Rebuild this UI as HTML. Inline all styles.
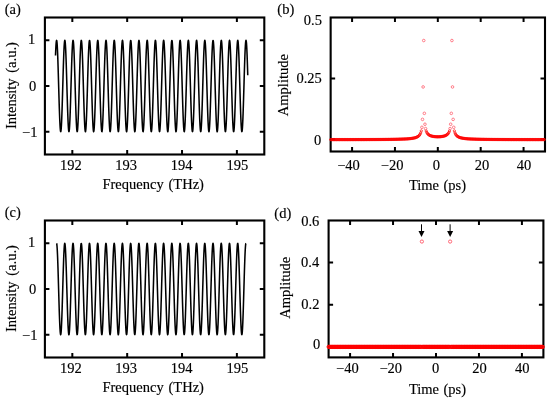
<!DOCTYPE html>
<html><head><meta charset="utf-8"><style>
html,body{margin:0;padding:0;background:#fff;}
svg{display:block;}
text{font-family:"Liberation Serif","Times New Roman",serif;font-size:14.5px;fill:#000;stroke:#000;stroke-width:0.15px;}
</style></head><body>
<svg width="550" height="400" viewBox="0 0 550 400">
<rect width="550" height="400" fill="#fff"/>
<polyline points="55.50,55.49 55.66,51.58 55.82,48.18 55.98,45.34 56.14,43.11 56.30,41.52 56.46,40.59 56.62,40.34 56.78,40.77 56.94,41.88 57.10,43.64 57.26,46.04 57.42,49.03 57.58,52.58 57.74,56.62 57.90,61.11 58.06,65.96 58.22,71.11 58.38,76.49 58.54,82.01 58.70,87.58 58.86,93.14 59.02,98.58 59.18,103.84 59.34,108.83 59.51,113.49 59.67,117.73 59.83,121.50 59.99,124.73 60.15,127.39 60.31,129.44 60.47,130.83 60.63,131.56 60.79,131.60 60.95,130.97 61.11,129.66 61.27,127.70 61.43,125.12 61.59,121.96 61.75,118.26 61.91,114.08 62.07,109.48 62.23,104.53 62.39,99.30 62.55,93.87 62.71,88.33 62.87,82.75 63.03,77.22 63.19,71.82 63.35,66.63 63.51,61.74 63.67,57.20 63.83,53.09 63.99,49.48 64.15,46.41 64.31,43.93 64.47,42.08 64.63,40.88 64.79,40.36 64.95,40.52 65.11,41.35 65.27,42.86 65.43,45.00 65.59,47.76 65.75,51.09 65.91,54.94 66.07,59.26 66.23,63.97 66.39,69.01 66.55,74.31 66.71,79.78 66.87,85.34 67.03,90.91 67.20,96.41 67.36,101.76 67.52,106.86 67.68,111.66 67.84,116.08 68.00,120.04 68.16,123.50 68.32,126.40 68.48,128.69 68.64,130.35 68.80,131.35 68.96,131.67 69.12,131.30 69.28,130.27 69.44,128.57 69.60,126.23 69.76,123.30 69.92,119.81 70.08,115.81 70.24,111.37 70.40,106.55 70.56,101.43 70.72,96.07 70.88,90.57 71.04,84.99 71.20,79.43 71.36,73.97 71.52,68.69 71.68,63.67 71.84,58.97 72.00,54.69 72.16,50.87 72.32,47.57 72.48,44.85 72.64,42.74 72.80,41.28 72.96,40.49 73.12,40.37 73.28,40.94 73.44,42.17 73.60,44.07 73.76,46.58 73.92,49.69 74.08,53.34 74.24,57.47 74.40,62.03 74.56,66.95 74.72,72.15 74.89,77.56 75.05,83.10 75.21,88.68 75.37,94.22 75.53,99.63 75.69,104.84 75.85,109.78 76.01,114.35 76.17,118.51 76.33,122.17 76.49,125.30 76.65,127.85 76.81,129.76 76.97,131.03 77.13,131.62 77.29,131.53 77.45,130.76 77.61,129.33 77.77,127.25 77.93,124.55 78.09,121.27 78.25,117.48 78.41,113.21 78.57,108.53 78.73,103.52 78.89,98.25 79.05,92.79 79.21,87.23 79.37,81.66 79.53,76.15 79.69,70.78 79.85,65.65 80.01,60.81 80.17,56.36 80.33,52.34 80.49,48.83 80.65,45.87 80.81,43.51 80.97,41.79 81.13,40.72 81.29,40.34 81.45,40.63 81.61,41.60 81.77,43.23 81.93,45.50 82.09,48.37 82.25,51.81 82.41,55.76 82.58,60.15 82.74,64.94 82.90,70.03 83.06,75.37 83.22,80.86 83.38,86.44 83.54,92.00 83.70,97.48 83.86,102.78 84.02,107.83 84.18,112.56 84.34,116.89 84.50,120.76 84.66,124.11 84.82,126.90 84.98,129.07 85.14,130.60 85.30,131.46 85.46,131.65 85.62,131.15 85.78,129.98 85.94,128.16 86.10,125.70 86.26,122.66 86.42,119.06 86.58,114.97 86.74,110.45 86.90,105.57 87.06,100.39 87.22,95.00 87.38,89.47 87.54,83.90 87.70,78.35 87.86,72.92 88.02,67.68 88.18,62.72 88.34,58.10 88.50,53.90 88.66,50.18 88.82,46.99 88.98,44.39 89.14,42.40 89.30,41.07 89.46,40.41 89.62,40.43 89.78,41.13 89.94,42.49 90.10,44.51 90.27,47.15 90.43,50.36 90.59,54.11 90.75,58.34 90.91,62.97 91.07,67.95 91.23,73.20 91.39,78.64 91.55,84.19 91.71,89.77 91.87,95.29 92.03,100.67 92.19,105.84 92.35,110.70 92.51,115.20 92.67,119.27 92.83,122.83 92.99,125.85 93.15,128.27 93.31,130.06 93.47,131.20 93.63,131.66 93.79,131.43 93.95,130.53 94.11,128.97 94.27,126.76 94.43,123.95 94.59,120.57 94.75,116.67 94.91,112.32 95.07,107.57 95.23,102.50 95.39,97.19 95.55,91.71 95.71,86.14 95.87,80.57 96.03,75.08 96.19,69.76 96.35,64.67 96.51,59.91 96.67,55.53 96.83,51.61 96.99,48.20 97.15,45.36 97.31,43.12 97.47,41.53 97.63,40.59 97.80,40.34 97.96,40.76 98.12,41.87 98.28,43.62 98.44,46.02 98.60,49.00 98.76,52.55 98.92,56.58 99.08,61.06 99.24,65.91 99.40,71.07 99.56,76.44 99.72,81.95 99.88,87.53 100.04,93.09 100.20,98.53 100.36,103.79 100.52,108.79 100.68,113.44 100.84,117.69 101.00,121.46 101.16,124.71 101.32,127.37 101.48,129.42 101.64,130.82 101.80,131.55 101.96,131.61 102.12,130.98 102.28,129.68 102.44,127.73 102.60,125.15 102.76,121.99 102.92,118.30 103.08,114.12 103.24,109.52 103.40,104.57 103.56,99.35 103.72,93.92 103.88,88.38 104.04,82.80 104.20,77.27 104.36,71.87 104.52,66.68 104.68,61.78 104.84,57.24 105.00,53.13 105.16,49.51 105.32,46.43 105.48,43.95 105.65,42.09 105.81,40.89 105.97,40.36 106.13,40.51 106.29,41.34 106.45,42.84 106.61,44.98 106.77,47.73 106.93,51.06 107.09,54.91 107.25,59.22 107.41,63.93 107.57,68.96 107.73,74.26 107.89,79.73 108.05,85.29 108.21,90.86 108.37,96.36 108.53,101.71 108.69,106.82 108.85,111.62 109.01,116.04 109.17,120.01 109.33,123.47 109.49,126.37 109.65,128.67 109.81,130.34 109.97,131.34 110.13,131.67 110.29,131.31 110.45,130.28 110.61,128.59 110.77,126.26 110.93,123.33 111.09,119.84 111.25,115.85 111.41,111.41 111.57,106.60 111.73,101.48 111.89,96.12 112.05,90.62 112.21,85.04 112.37,79.48 112.53,74.02 112.69,68.74 112.85,63.71 113.01,59.02 113.17,54.73 113.34,50.90 113.50,47.60 113.66,44.87 113.82,42.76 113.98,41.29 114.14,40.49 114.30,40.37 114.46,40.93 114.62,42.16 114.78,44.05 114.94,46.56 115.10,49.66 115.26,53.30 115.42,57.43 115.58,61.99 115.74,66.90 115.90,72.11 116.06,77.51 116.22,83.05 116.38,88.63 116.54,94.17 116.70,99.58 116.86,104.80 117.02,109.73 117.18,114.31 117.34,118.47 117.50,122.14 117.66,125.28 117.82,127.82 117.98,129.75 118.14,131.02 118.30,131.62 118.46,131.54 118.62,130.77 118.78,129.34 118.94,127.27 119.10,124.58 119.26,121.31 119.42,117.51 119.58,113.25 119.74,108.58 119.90,103.57 120.06,98.30 120.22,92.84 120.38,87.28 120.54,81.71 120.70,76.20 120.86,70.83 121.03,65.69 121.19,60.86 121.35,56.40 121.51,52.38 121.67,48.86 121.83,45.90 121.99,43.53 122.15,41.80 122.31,40.73 122.47,40.34 122.63,40.62 122.79,41.58 122.95,43.21 123.11,45.47 123.27,48.34 123.43,51.78 123.59,55.72 123.75,60.11 123.91,64.89 124.07,69.99 124.23,75.32 124.39,80.81 124.55,86.38 124.71,91.95 124.87,97.43 125.03,102.73 125.19,107.79 125.35,112.52 125.51,116.85 125.67,120.73 125.83,124.09 125.99,126.87 126.15,129.05 126.31,130.59 126.47,131.46 126.63,131.65 126.79,131.16 126.95,130.00 127.11,128.18 127.27,125.73 127.43,122.69 127.59,119.10 127.75,115.01 127.91,110.50 128.07,105.61 128.23,100.44 128.39,95.05 128.56,89.52 128.72,83.95 128.88,78.40 129.04,72.97 129.20,67.73 129.36,62.76 129.52,58.14 129.68,53.94 129.84,50.21 130.00,47.02 130.16,44.41 130.32,42.42 130.48,41.08 130.64,40.41 130.80,40.42 130.96,41.12 131.12,42.48 131.28,44.49 131.44,47.12 131.60,50.33 131.76,54.08 131.92,58.30 132.08,62.93 132.24,67.91 132.40,73.15 132.56,78.59 132.72,84.14 132.88,89.72 133.04,95.24 133.20,100.63 133.36,105.79 133.52,110.66 133.68,115.16 133.84,119.23 134.00,122.80 134.16,125.82 134.32,128.25 134.48,130.05 134.64,131.19 134.80,131.66 134.96,131.44 135.12,130.55 135.28,128.99 135.44,126.79 135.60,123.98 135.76,120.60 135.92,116.71 136.08,112.36 136.25,107.62 136.41,102.55 136.57,97.24 136.73,91.76 136.89,86.19 137.05,80.62 137.21,75.13 137.37,69.80 137.53,64.72 137.69,59.95 137.85,55.57 138.01,51.65 138.17,48.23 138.33,45.38 138.49,43.14 138.65,41.54 138.81,40.60 138.97,40.34 139.13,40.76 139.29,41.85 139.45,43.61 139.61,45.99 139.77,48.97 139.93,52.51 140.09,56.55 140.25,61.02 140.41,65.87 140.57,71.02 140.73,76.39 140.89,81.90 141.05,87.48 141.21,93.03 141.37,98.48 141.53,103.75 141.69,108.75 141.85,113.40 142.01,117.65 142.17,121.43 142.33,124.68 142.49,127.35 142.65,129.41 142.81,130.81 142.97,131.55 143.13,131.61 143.29,130.99 143.45,129.69 143.61,127.75 143.77,125.18 143.94,122.02 144.10,118.33 144.26,114.16 144.42,109.56 144.58,104.62 144.74,99.40 144.90,93.97 145.06,88.43 145.22,82.85 145.38,77.32 145.54,71.92 145.70,66.73 145.86,61.82 146.02,57.28 146.18,53.16 146.34,49.54 146.50,46.46 146.66,43.97 146.82,42.10 146.98,40.90 147.14,40.36 147.30,40.51 147.46,41.33 147.62,42.82 147.78,44.96 147.94,47.71 148.10,51.03 148.26,54.87 148.42,59.17 148.58,63.88 148.74,68.92 148.90,74.21 149.06,79.68 149.22,85.24 149.38,90.81 149.54,96.31 149.70,101.66 149.86,106.77 150.02,111.58 150.18,116.00 150.34,119.97 150.50,123.44 150.66,126.35 150.82,128.66 150.98,130.33 151.14,131.33 151.30,131.67 151.46,131.32 151.62,130.29 151.79,128.60 151.95,126.28 152.11,123.36 152.27,119.88 152.43,115.89 152.59,111.46 152.75,106.64 152.91,101.52 153.07,96.17 153.23,90.67 153.39,85.09 153.55,79.53 153.71,74.07 153.87,68.78 154.03,63.75 154.19,59.06 154.35,54.76 154.51,50.93 154.67,47.63 154.83,44.90 154.99,42.78 155.15,41.30 155.31,40.49 155.47,40.37 155.63,40.92 155.79,42.15 155.95,44.03 156.11,46.53 156.27,49.63 156.43,53.27 156.59,57.39 156.75,61.95 156.91,66.86 157.07,72.06 157.23,77.46 157.39,83.00 157.55,88.58 157.71,94.12 157.87,99.53 158.03,104.75 158.19,109.69 158.35,114.27 158.51,118.43 158.67,122.11 158.83,125.25 158.99,127.80 159.15,129.73 159.31,131.01 159.48,131.62 159.64,131.54 159.80,130.78 159.96,129.36 160.12,127.29 160.28,124.60 160.44,121.34 160.60,117.55 160.76,113.29 160.92,108.62 161.08,103.61 161.24,98.34 161.40,92.89 161.56,87.34 161.72,81.76 161.88,76.25 162.04,70.88 162.20,65.74 162.36,60.90 162.52,56.44 162.68,52.41 162.84,48.89 163.00,45.92 163.16,43.55 163.32,41.82 163.48,40.74 163.64,40.34 163.80,40.62 163.96,41.57 164.12,43.19 164.28,45.45 164.44,48.32 164.60,51.74 164.76,55.68 164.92,60.07 165.08,64.85 165.24,69.94 165.40,75.27 165.56,80.76 165.72,86.33 165.88,91.90 166.04,97.38 166.20,102.68 166.36,107.74 166.52,112.48 166.68,116.82 166.84,120.70 167.00,124.06 167.17,126.85 167.33,129.04 167.49,130.58 167.65,131.45 167.81,131.65 167.97,131.17 168.13,130.01 168.29,128.20 168.45,125.75 168.61,122.72 168.77,119.13 168.93,115.05 169.09,110.54 169.25,105.66 169.41,100.49 169.57,95.10 169.73,89.58 169.89,84.00 170.05,78.45 170.21,73.01 170.37,67.77 170.53,62.80 170.69,58.18 170.85,53.97 171.01,50.24 171.17,47.04 171.33,44.43 171.49,42.43 171.65,41.09 171.81,40.42 171.97,40.42 172.13,41.11 172.29,42.46 172.45,44.47 172.61,47.09 172.77,50.30 172.93,54.04 173.09,58.25 173.25,62.88 173.41,67.86 173.57,73.10 173.73,78.54 173.89,84.09 174.05,89.67 174.21,95.19 174.37,100.58 174.53,105.75 174.69,110.62 174.86,115.13 175.02,119.20 175.18,122.77 175.34,125.80 175.50,128.23 175.66,130.04 175.82,131.18 175.98,131.65 176.14,131.44 176.30,130.56 176.46,129.00 176.62,126.81 176.78,124.01 176.94,120.64 177.10,116.75 177.26,112.40 177.42,107.66 177.58,102.60 177.74,97.29 177.90,91.81 178.06,86.24 178.22,80.67 178.38,75.18 178.54,69.85 178.70,64.76 178.86,59.99 179.02,55.61 179.18,51.68 179.34,48.26 179.50,45.41 179.66,43.16 179.82,41.55 179.98,40.61 180.14,40.34 180.30,40.75 180.46,41.84 180.62,43.59 180.78,45.97 180.94,48.95 181.10,52.48 181.26,56.51 181.42,60.98 181.58,65.82 181.74,70.97 181.90,76.34 182.06,81.85 182.22,87.43 182.38,92.98 182.55,98.44 182.71,103.70 182.87,108.70 183.03,113.36 183.19,117.62 183.35,121.40 183.51,124.65 183.67,127.33 183.83,129.39 183.99,130.80 184.15,131.55 184.31,131.61 184.47,130.99 184.63,129.71 184.79,127.77 184.95,125.20 185.11,122.05 185.27,118.37 185.43,114.20 185.59,109.61 185.75,104.67 185.91,99.44 186.07,94.02 186.23,88.48 186.39,82.90 186.55,77.37 186.71,71.97 186.87,66.77 187.03,61.87 187.19,57.32 187.35,53.20 187.51,49.57 187.67,46.48 187.83,43.99 187.99,42.12 188.15,40.90 188.31,40.36 188.47,40.50 188.63,41.32 188.79,42.81 188.95,44.94 189.11,47.68 189.27,50.99 189.43,54.83 189.59,59.13 189.75,63.84 189.91,68.87 190.07,74.16 190.24,79.63 190.40,85.19 190.56,90.76 190.72,96.26 190.88,101.61 191.04,106.73 191.20,111.54 191.36,115.96 191.52,119.94 191.68,123.41 191.84,126.33 192.00,128.64 192.16,130.31 192.32,131.33 192.48,131.67 192.64,131.32 192.80,130.30 192.96,128.62 193.12,126.31 193.28,123.39 193.44,119.91 193.60,115.93 193.76,111.50 193.92,106.69 194.08,101.57 194.24,96.22 194.40,90.72 194.56,85.14 194.72,79.58 194.88,74.12 195.04,68.83 195.20,63.80 195.36,59.10 195.52,54.80 195.68,50.97 195.84,47.66 196.00,44.92 196.16,42.79 196.32,41.31 196.48,40.50 196.64,40.36 196.80,40.91 196.96,42.13 197.12,44.01 197.28,46.51 197.44,49.60 197.60,53.23 197.76,57.35 197.93,61.90 198.09,66.81 198.25,72.01 198.41,77.41 198.57,82.95 198.73,88.52 198.89,94.07 199.05,99.49 199.21,104.71 199.37,109.65 199.53,114.23 199.69,118.40 199.85,122.08 200.01,125.23 200.17,127.78 200.33,129.72 200.49,131.00 200.65,131.61 200.81,131.54 200.97,130.79 201.13,129.38 201.29,127.31 201.45,124.63 201.61,121.37 201.77,117.59 201.93,113.33 202.09,108.66 202.25,103.66 202.41,98.39 202.57,92.94 202.73,87.39 202.89,81.81 203.05,76.30 203.21,70.93 203.37,65.78 203.53,60.94 203.69,56.47 203.85,52.45 204.01,48.92 204.17,45.95 204.33,43.57 204.49,41.83 204.65,40.74 204.81,40.34 204.97,40.61 205.13,41.56 205.29,43.17 205.46,45.43 205.62,48.29 205.78,51.71 205.94,55.64 206.10,60.03 206.26,64.80 206.42,69.89 206.58,75.22 206.74,80.71 206.90,86.28 207.06,91.85 207.22,97.33 207.38,102.64 207.54,107.70 207.70,112.44 207.86,116.78 208.02,120.66 208.18,124.03 208.34,126.83 208.50,129.02 208.66,130.57 208.82,131.45 208.98,131.65 209.14,131.18 209.30,130.02 209.46,128.22 209.62,125.78 209.78,122.75 209.94,119.17 210.10,115.09 210.26,110.58 210.42,105.71 210.58,100.54 210.74,95.15 210.90,89.63 211.06,84.05 211.22,78.50 211.38,73.06 211.54,67.82 211.70,62.85 211.86,58.22 212.02,54.01 212.18,50.27 212.34,47.07 212.50,44.45 212.66,42.45 212.82,41.10 212.98,40.42 213.15,40.42 213.31,41.10 213.47,42.45 213.63,44.45 213.79,47.07 213.95,50.27 214.11,54.00 214.27,58.21 214.43,62.84 214.59,67.81 214.75,73.06 214.91,78.49 215.07,84.04 215.23,89.62 215.39,95.14 215.55,100.53 215.71,105.70 215.87,110.58 216.03,115.09 216.19,119.16 216.35,122.74 216.51,125.78 216.67,128.21 216.83,130.02 216.99,131.17 217.15,131.65 217.31,131.45 217.47,130.57 217.63,129.02 217.79,126.83 217.95,124.03 218.11,120.67 218.27,116.78 218.43,112.44 218.59,107.71 218.75,102.64 218.91,97.33 219.07,91.86 219.23,86.29 219.39,80.72 219.55,75.23 219.71,69.90 219.87,64.81 220.03,60.03 220.19,55.65 220.35,51.71 220.51,48.29 220.67,45.43 220.84,43.18 221.00,41.56 221.16,40.61 221.32,40.34 221.48,40.74 221.64,41.83 221.80,43.57 221.96,45.94 222.12,48.92 222.28,52.44 222.44,56.47 222.60,60.94 222.76,65.78 222.92,70.92 223.08,76.29 223.24,81.80 223.40,87.38 223.56,92.93 223.72,98.39 223.88,103.65 224.04,108.66 224.20,113.32 224.36,117.58 224.52,121.37 224.68,124.63 224.84,127.31 225.00,129.37 225.16,130.79 225.32,131.54 225.48,131.61 225.64,131.00 225.80,129.72 225.96,127.79 226.12,125.23 226.28,122.09 226.44,118.40 226.60,114.24 226.76,109.65 226.92,104.71 227.08,99.49 227.24,94.07 227.40,88.53 227.56,82.95 227.72,77.42 227.88,72.02 228.04,66.82 228.20,61.91 228.36,57.36 228.53,53.23 228.69,49.60 228.85,46.51 229.01,44.01 229.17,42.13 229.33,40.91 229.49,40.36 229.65,40.50 229.81,41.31 229.97,42.79 230.13,44.91 230.29,47.65 230.45,50.96 230.61,54.79 230.77,59.09 230.93,63.79 231.09,68.82 231.25,74.11 231.41,79.58 231.57,85.14 231.73,90.71 231.89,96.21 232.05,101.56 232.21,106.68 232.37,111.49 232.53,115.92 232.69,119.91 232.85,123.38 233.01,126.30 233.17,128.62 233.33,130.30 233.49,131.32 233.65,131.67 233.81,131.33 233.97,130.32 234.13,128.64 234.29,126.33 234.45,123.42 234.61,119.94 234.77,115.97 234.93,111.54 235.09,106.73 235.25,101.62 235.41,96.27 235.57,90.77 235.73,85.19 235.89,79.63 236.05,74.17 236.22,68.88 236.38,63.84 236.54,59.14 236.70,54.84 236.86,51.00 237.02,47.68 237.18,44.94 237.34,42.81 237.50,41.32 237.66,40.50 237.82,40.36 237.98,40.90 238.14,42.12 238.30,43.99 238.46,46.48 238.62,49.57 238.78,53.19 238.94,57.31 239.10,61.86 239.26,66.77 239.42,71.96 239.58,77.36 239.74,82.90 239.90,88.47 240.06,94.02 240.22,99.44 240.38,104.66 240.54,109.60 240.70,114.19 240.86,118.36 241.02,122.05 241.18,125.20 241.34,127.76 241.50,129.70 241.66,130.99 241.82,131.61 241.98,131.55 242.14,130.80 242.30,129.39 242.46,127.33 242.62,124.66 242.78,121.40 242.94,117.62 243.10,113.37 243.26,108.71 243.42,103.71 243.58,98.44 243.74,92.99 243.91,87.44 244.07,81.86 244.23,76.35 244.39,70.98 244.55,65.83 244.71,60.98 244.87,56.51 245.03,52.48 245.19,48.95 245.35,45.97 245.51,43.59 245.67,41.84 245.83,40.75 245.99,40.34 246.15,40.60 246.31,41.55 246.47,43.16 246.63,45.40 246.79,48.26 246.95,51.67 247.11,55.60 247.27,59.99 247.43,64.76 247.59,69.84 247.75,75.17" fill="none" stroke="#000" stroke-width="1.55" stroke-linejoin="round"/>
<rect x="44.9" y="17.5" width="219.40" height="137.00" fill="none" stroke="#000" stroke-width="2.1"/>
<path d="M72.33 154.50v-4.5M72.33 17.50v4.5M127.18 154.50v-4.5M127.18 17.50v4.5M182.03 154.50v-4.5M182.03 17.50v4.5M236.88 154.50v-4.5M236.88 17.50v4.5M44.90 40.33h4.5M264.30 40.33h-4.5M44.90 86.00h4.5M264.30 86.00h-4.5M44.90 131.67h4.5M264.30 131.67h-4.5" stroke="#000" stroke-width="2.0" fill="none"/>
<text x="27.97" y="43.79">1</text>
<text x="28.98" y="90.80">0</text>
<text x="22.08" y="136.80">−1</text>
<text x="60.04" y="169.78">192</text>
<text x="115.17" y="169.78">193</text>
<text x="170.80" y="169.78">194</text>
<text x="226.57" y="169.78">195</text>
<text x="102.48" y="188.50" word-spacing="1.2">Frequency (THz)</text>
<text transform="translate(16.00,129.12) rotate(-90)" word-spacing="2.0">Intensity (a.u.)</text>
<text x="4.75" y="14.39">(a)</text>
<polyline points="56.55,243.33 56.71,243.66 56.87,244.65 57.02,246.28 57.18,248.53 57.34,251.37 57.50,254.75 57.66,258.63 57.81,262.95 57.97,267.64 58.13,272.65 58.29,277.89 58.44,283.29 58.60,288.78 58.76,294.27 58.92,299.68 59.08,304.94 59.23,309.96 59.39,314.69 59.55,319.04 59.71,322.95 59.87,326.38 60.02,329.26 60.18,331.56 60.34,333.24 60.50,334.28 60.65,334.66 60.81,334.39 60.97,333.45 61.13,331.87 61.29,329.67 61.44,326.88 61.60,323.54 61.76,319.70 61.92,315.42 62.08,310.75 62.23,305.77 62.39,300.54 62.55,295.15 62.71,289.67 62.86,284.17 63.02,278.75 63.18,273.48 63.34,268.43 63.50,263.68 63.65,259.30 63.81,255.34 63.97,251.88 64.13,248.95 64.29,246.60 64.44,244.87 64.60,243.78 64.76,243.34 64.92,243.57 65.08,244.45 65.23,245.98 65.39,248.13 65.55,250.87 65.71,254.17 65.86,257.97 66.02,262.22 66.18,266.86 66.34,271.82 66.50,277.03 66.65,282.41 66.81,287.89 66.97,293.38 67.13,298.81 67.29,304.10 67.44,309.17 67.60,313.95 67.76,318.36 67.92,322.35 68.07,325.86 68.23,328.83 68.39,331.23 68.55,333.01 68.71,334.16 68.86,334.65 69.02,334.48 69.18,333.65 69.34,332.17 69.50,330.07 69.65,327.37 69.81,324.12 69.97,320.35 70.13,316.14 70.29,311.53 70.44,306.59 70.60,301.40 70.76,296.03 70.92,290.55 71.07,285.06 71.23,279.62 71.39,274.32 71.55,269.23 71.71,264.42 71.86,259.98 72.02,255.95 72.18,252.40 72.34,249.39 72.50,246.94 72.65,245.11 72.81,243.91 72.97,243.37 73.13,243.49 73.28,244.26 73.44,245.69 73.60,247.74 73.76,250.39 73.92,253.60 74.07,257.32 74.23,261.51 74.39,266.09 74.55,271.00 74.71,276.17 74.86,281.53 75.02,287.00 75.18,292.50 75.34,297.94 75.50,303.26 75.65,308.37 75.81,313.20 75.97,317.68 76.13,321.74 76.28,325.33 76.44,328.39 76.60,330.88 76.76,332.77 76.92,334.02 77.07,334.61 77.23,334.55 77.39,333.83 77.55,332.45 77.71,330.45 77.86,327.84 78.02,324.68 78.18,320.99 78.34,316.85 78.49,312.30 78.65,307.41 78.81,302.25 78.97,296.90 79.13,291.44 79.28,285.94 79.44,280.49 79.60,275.16 79.76,270.03 79.92,265.18 80.07,260.67 80.23,256.57 80.39,252.94 80.55,249.84 80.70,247.30 80.86,245.36 81.02,244.06 81.18,243.41 81.34,243.42 81.49,244.09 81.65,245.41 81.81,247.37 81.97,249.92 82.13,253.05 82.28,256.69 82.44,260.80 82.60,265.32 82.76,270.19 82.92,275.32 83.07,280.66 83.23,286.11 83.39,291.61 83.55,297.07 83.70,302.41 83.86,307.56 84.02,312.44 84.18,316.98 84.34,321.12 84.49,324.78 84.65,327.93 84.81,330.52 84.97,332.50 85.13,333.86 85.28,334.56 85.44,334.60 85.60,333.99 85.76,332.72 85.91,330.81 86.07,328.30 86.23,325.23 86.39,321.62 86.55,317.55 86.70,313.06 86.86,308.22 87.02,303.10 87.18,297.78 87.34,292.33 87.49,286.83 87.65,281.37 87.81,276.01 87.97,270.84 88.12,265.94 88.28,261.37 88.44,257.20 88.60,253.49 88.76,250.30 88.91,247.67 89.07,245.63 89.23,244.23 89.39,243.47 89.55,243.37 89.70,243.94 89.86,245.16 90.02,247.01 90.18,249.47 90.34,252.51 90.49,256.07 90.65,260.11 90.81,264.57 90.97,269.38 91.12,274.48 91.28,279.79 91.44,285.23 91.60,290.72 91.76,296.20 91.91,301.56 92.07,306.75 92.23,311.67 92.39,316.27 92.55,320.48 92.70,324.23 92.86,327.46 93.02,330.14 93.18,332.23 93.33,333.68 93.49,334.49 93.65,334.64 93.81,334.13 93.97,332.97 94.12,331.16 94.28,328.75 94.44,325.76 94.60,322.24 94.76,318.23 94.91,313.81 95.07,309.02 95.23,303.94 95.39,298.65 95.55,293.21 95.70,287.72 95.86,282.24 96.02,276.87 96.18,271.66 96.33,266.71 96.49,262.08 96.65,257.85 96.81,254.06 96.97,250.78 97.12,248.05 97.28,245.92 97.44,244.41 97.60,243.55 97.76,243.35 97.91,243.80 98.07,244.92 98.23,246.67 98.39,249.03 98.54,251.98 98.70,255.46 98.86,259.43 99.02,263.82 99.18,268.58 99.33,273.64 99.49,278.92 99.65,284.34 99.81,289.84 99.97,295.32 100.12,300.71 100.28,305.93 100.44,310.90 100.60,315.56 100.75,319.83 100.91,323.65 101.07,326.98 101.23,329.75 101.39,331.93 101.54,333.49 101.70,334.41 101.86,334.66 102.02,334.26 102.18,333.20 102.33,331.50 102.49,329.18 102.65,326.28 102.81,322.84 102.97,318.91 103.12,314.55 103.28,309.81 103.44,304.78 103.60,299.51 103.75,294.10 103.91,288.61 104.07,283.12 104.23,277.72 104.39,272.49 104.54,267.49 104.70,262.81 104.86,258.50 105.02,254.64 105.18,251.27 105.33,248.45 105.49,246.22 105.65,244.61 105.81,243.64 105.96,243.33 106.12,243.68 106.28,244.69 106.44,246.34 106.60,248.61 106.75,251.47 106.91,254.86 107.07,258.76 107.23,263.09 107.39,267.79 107.54,272.81 107.70,278.05 107.86,283.46 108.02,288.95 108.18,294.44 108.33,299.84 108.49,305.10 108.65,310.12 108.81,314.83 108.96,319.17 109.12,323.07 109.28,326.48 109.44,329.34 109.60,331.62 109.75,333.28 109.91,334.30 110.07,334.67 110.23,334.37 110.39,333.41 110.54,331.81 110.70,329.59 110.86,326.79 111.02,323.43 111.17,319.58 111.33,315.28 111.49,310.60 111.65,305.61 111.81,300.38 111.96,294.98 112.12,289.50 112.28,284.01 112.44,278.59 112.60,273.32 112.75,268.28 112.91,263.54 113.07,259.17 113.23,255.23 113.38,251.78 113.54,248.87 113.70,246.54 113.86,244.83 114.02,243.76 114.17,243.34 114.33,243.58 114.49,244.49 114.65,246.03 114.81,248.20 114.96,250.97 115.12,254.28 115.28,258.10 115.44,262.36 115.60,267.01 115.75,271.98 115.91,277.19 116.07,282.58 116.23,288.06 116.38,293.55 116.54,298.98 116.70,304.26 116.86,309.32 117.02,314.09 117.17,318.49 117.33,322.47 117.49,325.96 117.65,328.92 117.81,331.29 117.96,333.06 118.12,334.18 118.28,334.65 118.44,334.46 118.59,333.61 118.75,332.11 118.91,329.99 119.07,327.28 119.23,324.01 119.38,320.23 119.54,316.00 119.70,311.38 119.86,306.43 120.02,301.24 120.17,295.86 120.33,290.38 120.49,284.89 120.65,279.45 120.81,274.16 120.96,269.08 121.12,264.28 121.28,259.85 121.44,255.83 121.59,252.30 121.75,249.30 121.91,246.88 122.07,245.06 122.23,243.89 122.38,243.36 122.54,243.50 122.70,244.30 122.86,245.74 123.02,247.81 123.17,250.48 123.33,253.71 123.49,257.45 123.65,261.64 123.80,266.23 123.96,271.16 124.12,276.34 124.28,281.70 124.44,287.17 124.59,292.67 124.75,298.11 124.91,303.42 125.07,308.52 125.23,313.34 125.38,317.81 125.54,321.86 125.70,325.43 125.86,328.48 126.02,330.95 126.17,332.81 126.33,334.04 126.49,334.62 126.65,334.54 126.80,333.79 126.96,332.40 127.12,330.38 127.28,327.76 127.44,324.57 127.59,320.87 127.75,316.71 127.91,312.15 128.07,307.25 128.23,302.09 128.38,296.74 128.54,291.27 128.70,285.78 128.86,280.32 129.01,275.00 129.17,269.88 129.33,265.03 129.49,260.54 129.65,256.45 129.80,252.84 129.96,249.75 130.12,247.23 130.28,245.31 130.44,244.03 130.59,243.40 130.75,243.43 130.91,244.12 131.07,245.46 131.22,247.44 131.38,250.01 131.54,253.15 131.70,256.81 131.86,260.94 132.01,265.47 132.17,270.34 132.33,275.49 132.49,280.83 132.65,286.28 132.80,291.78 132.96,297.24 133.12,302.58 133.28,307.72 133.44,312.59 133.59,317.12 133.75,321.24 133.91,324.89 134.07,328.02 134.22,330.59 134.38,332.56 134.54,333.89 134.70,334.57 134.86,334.59 135.01,333.96 135.17,332.67 135.33,330.75 135.49,328.22 135.65,325.12 135.80,321.50 135.96,317.41 136.12,312.91 136.28,308.06 136.43,302.94 136.59,297.61 136.75,292.16 136.91,286.66 137.07,281.20 137.22,275.85 137.38,270.69 137.54,265.79 137.70,261.24 137.86,257.08 138.01,253.39 138.17,250.21 138.33,247.60 138.49,245.58 138.64,244.19 138.80,243.46 138.96,243.38 139.12,243.97 139.28,245.20 139.43,247.08 139.59,249.56 139.75,252.61 139.91,256.19 140.07,260.24 140.22,264.71 140.38,269.53 140.54,274.64 140.70,279.95 140.86,285.40 141.01,290.89 141.17,296.36 141.33,301.73 141.49,306.90 141.64,311.82 141.80,316.41 141.96,320.60 142.12,324.33 142.28,327.55 142.43,330.22 142.59,332.28 142.75,333.72 142.91,334.51 143.07,334.64 143.22,334.10 143.38,332.92 143.54,331.10 143.70,328.67 143.85,325.66 144.01,322.12 144.17,318.10 144.33,313.66 144.49,308.87 144.64,303.78 144.80,298.48 144.96,293.05 145.12,287.55 145.28,282.08 145.43,276.70 145.59,271.51 145.75,266.56 145.91,261.95 146.07,257.72 146.22,253.95 146.38,250.69 146.54,247.98 146.70,245.86 146.85,244.38 147.01,243.53 147.17,243.35 147.33,243.83 147.49,244.96 147.64,246.73 147.80,249.12 147.96,252.08 148.12,255.57 148.28,259.56 148.43,263.96 148.59,268.73 148.75,273.80 148.91,279.08 149.06,284.51 149.22,290.01 149.38,295.48 149.54,300.87 149.70,306.08 149.85,311.05 150.01,315.69 150.17,319.95 150.33,323.76 150.49,327.07 150.64,329.82 150.80,331.99 150.96,333.53 151.12,334.42 151.27,334.66 151.43,334.23 151.59,333.15 151.75,331.43 151.91,329.10 152.06,326.18 152.22,322.73 152.38,318.78 152.54,314.41 152.70,309.66 152.85,304.62 153.01,299.35 153.17,293.93 153.33,288.44 153.49,282.96 153.64,277.56 153.80,272.33 153.96,267.34 154.12,262.67 154.27,258.38 154.43,254.53 154.59,251.18 154.75,248.38 154.91,246.16 155.06,244.57 155.22,243.62 155.38,243.33 155.54,243.71 155.70,244.73 155.85,246.40 156.01,248.69 156.17,251.56 156.33,254.98 156.48,258.88 156.64,263.23 156.80,267.94 156.96,272.96 157.12,278.22 157.27,283.63 157.43,289.12 157.59,294.60 157.75,300.01 157.91,305.26 158.06,310.27 158.22,314.97 158.38,319.29 158.54,323.18 158.70,326.57 158.85,329.42 159.01,331.68 159.17,333.32 159.33,334.32 159.48,334.67 159.64,334.35 159.80,333.37 159.96,331.75 160.12,329.52 160.27,326.69 160.43,323.32 160.59,319.45 160.75,315.14 160.91,310.45 161.06,305.45 161.22,300.21 161.38,294.81 161.54,289.33 161.69,283.84 161.85,278.42 162.01,273.16 162.17,268.13 162.33,263.40 162.48,259.04 162.64,255.12 162.80,251.68 162.96,248.79 163.12,246.48 163.27,244.79 163.43,243.73 163.59,243.34 163.75,243.60 163.90,244.52 164.06,246.09 164.22,248.28 164.38,251.06 164.54,254.39 164.69,258.22 164.85,262.50 165.01,267.16 165.17,272.14 165.33,277.36 165.48,282.75 165.64,288.23 165.80,293.72 165.96,299.15 166.12,304.42 166.27,309.48 166.43,314.23 166.59,318.62 166.75,322.59 166.90,326.06 167.06,329.00 167.22,331.36 167.38,333.10 167.54,334.21 167.69,334.66 167.85,334.44 168.01,333.57 168.17,332.06 168.33,329.92 168.48,327.19 168.64,323.90 168.80,320.11 168.96,315.86 169.11,311.23 169.27,306.28 169.43,301.07 169.59,295.69 169.75,290.22 169.90,284.72 170.06,279.29 170.22,274.00 170.38,268.92 170.54,264.14 170.69,259.72 170.85,255.72 171.01,252.20 171.17,249.22 171.33,246.81 171.48,245.02 171.64,243.86 171.80,243.36 171.96,243.51 172.11,244.33 172.27,245.80 172.43,247.89 172.59,250.57 172.75,253.82 172.90,257.57 173.06,261.78 173.22,266.38 173.38,271.31 173.54,276.50 173.69,281.87 173.85,287.34 174.01,292.84 174.17,298.28 174.32,303.58 174.48,308.68 174.64,313.49 174.80,317.94 174.96,321.98 175.11,325.53 175.27,328.56 175.43,331.02 175.59,332.86 175.75,334.07 175.90,334.63 176.06,334.52 176.22,333.76 176.38,332.35 176.53,330.30 176.69,327.67 176.85,324.46 177.01,320.75 177.17,316.58 177.32,312.00 177.48,307.10 177.64,301.93 177.80,296.57 177.96,291.10 178.11,285.61 178.27,280.16 178.43,274.84 178.59,269.72 178.75,264.89 178.90,260.40 179.06,256.33 179.22,252.73 179.38,249.66 179.53,247.16 179.69,245.26 179.85,244.00 180.01,243.39 180.17,243.44 180.32,244.15 180.48,245.52 180.64,247.51 180.80,250.10 180.96,253.26 181.11,256.93 181.27,261.07 181.43,265.61 181.59,270.50 181.74,275.65 181.90,280.99 182.06,286.45 182.22,291.95 182.38,297.41 182.53,302.74 182.69,307.87 182.85,312.73 183.01,317.25 183.17,321.36 183.32,324.99 183.48,328.11 183.64,330.66 183.80,332.61 183.96,333.92 184.11,334.58 184.27,334.59 184.43,333.93 184.59,332.62 184.74,330.68 184.90,328.13 185.06,325.02 185.22,321.38 185.38,317.28 185.53,312.77 185.69,307.91 185.85,302.78 186.01,297.44 186.17,291.99 186.32,286.49 186.48,281.03 186.64,275.69 186.80,270.53 186.95,265.65 187.11,261.10 187.27,256.96 187.43,253.28 187.59,250.12 187.74,247.52 187.90,245.53 188.06,244.16 188.22,243.45 188.38,243.39 188.53,244.00 188.69,245.25 188.85,247.14 189.01,249.64 189.17,252.71 189.32,256.30 189.48,260.37 189.64,264.86 189.80,269.69 189.95,274.80 190.11,280.12 190.27,285.57 190.43,291.06 190.59,296.53 190.74,301.89 190.90,307.06 191.06,311.97 191.22,316.55 191.38,320.72 191.53,324.44 191.69,327.64 191.85,330.29 192.01,332.33 192.16,333.75 192.32,334.52 192.48,334.63 192.64,334.08 192.80,332.87 192.95,331.03 193.11,328.58 193.27,325.56 193.43,322.00 193.59,317.97 193.74,313.52 193.90,308.71 194.06,303.62 194.22,298.32 194.37,292.88 194.53,287.38 194.69,281.91 194.85,276.54 195.01,271.35 195.16,266.42 195.32,261.81 195.48,257.60 195.64,253.84 195.80,250.59 195.95,247.90 196.11,245.81 196.27,244.34 196.43,243.52 196.59,243.35 196.74,243.85 196.90,245.01 197.06,246.80 197.22,249.20 197.37,252.18 197.53,255.69 197.69,259.69 197.85,264.11 198.01,268.89 198.16,273.96 198.32,279.25 198.48,284.68 198.64,290.18 198.80,295.65 198.95,301.03 199.11,306.24 199.27,311.20 199.43,315.83 199.58,320.08 199.74,323.87 199.90,327.16 200.06,329.90 200.22,332.05 200.37,333.57 200.53,334.44 200.69,334.66 200.85,334.21 201.01,333.11 201.16,331.37 201.32,329.02 201.48,326.08 201.64,322.61 201.80,318.65 201.95,314.27 202.11,309.51 202.27,304.46 202.43,299.18 202.58,293.76 202.74,288.27 202.90,282.79 203.06,277.40 203.22,272.17 203.37,267.19 203.53,262.53 203.69,258.25 203.85,254.42 204.01,251.08 204.16,248.30 204.32,246.11 204.48,244.53 204.64,243.61 204.79,243.34 204.95,243.73 205.11,244.78 205.27,246.47 205.43,248.77 205.58,251.66 205.74,255.09 205.90,259.01 206.06,263.37 206.22,268.09 206.37,273.12 206.53,278.38 206.69,283.80 206.85,289.29 207.00,294.77 207.16,300.17 207.32,305.41 207.48,310.42 207.64,315.11 207.79,319.42 207.95,323.29 208.11,326.67 208.27,329.50 208.43,331.74 208.58,333.36 208.74,334.34 208.90,334.67 209.06,334.33 209.22,333.33 209.37,331.69 209.53,329.44 209.69,326.59 209.85,323.21 210.00,319.32 210.16,315.00 210.32,310.30 210.48,305.29 210.64,300.05 210.79,294.64 210.95,289.16 211.11,283.67 211.27,278.26 211.43,273.00 211.58,267.98 211.74,263.26 211.90,258.91 212.06,255.00 212.21,251.58 212.37,248.71 212.53,246.42 212.69,244.74 212.85,243.71 213.00,243.33 213.16,243.62 213.32,244.56 213.48,246.15 213.64,248.36 213.79,251.16 213.95,254.50 214.11,258.35 214.27,262.64 214.43,267.31 214.58,272.29 214.74,277.52 214.90,282.92 215.06,288.40 215.21,293.89 215.37,299.31 215.53,304.58 215.69,309.63 215.85,314.37 216.00,318.75 216.16,322.70 216.32,326.16 216.48,329.08 216.64,331.42 216.79,333.14 216.95,334.23 217.11,334.66 217.27,334.43 217.42,333.54 217.58,332.00 217.74,329.84 217.90,327.09 218.06,323.79 218.21,319.98 218.37,315.73 218.53,311.08 218.69,306.12 218.85,300.91 219.00,295.52 219.16,290.05 219.32,284.55 219.48,279.12 219.63,273.84 219.79,268.77 219.95,264.00 220.11,259.59 220.27,255.60 220.42,252.10 220.58,249.14 220.74,246.75 220.90,244.97 221.06,243.83 221.21,243.35 221.37,243.53 221.53,244.37 221.69,245.85 221.85,247.96 222.00,250.67 222.16,253.93 222.32,257.69 222.48,261.92 222.63,266.53 222.79,271.47 222.95,276.66 223.11,282.04 223.27,287.51 223.42,293.01 223.58,298.44 223.74,303.74 223.90,308.83 224.06,313.63 224.21,318.07 224.37,322.09 224.53,325.64 224.69,328.65 224.84,331.08 225.00,332.91 225.16,334.10 225.32,334.63 225.48,334.51 225.63,333.72 225.79,332.29 225.95,330.23 226.11,327.57 226.27,324.36 226.42,320.63 226.58,316.44 226.74,311.86 226.90,306.94 227.06,301.76 227.21,296.40 227.37,290.93 227.53,285.44 227.69,279.99 227.84,274.68 228.00,269.57 228.16,264.74 228.32,260.27 228.48,256.21 228.63,252.63 228.79,249.58 228.95,247.09 229.11,245.22 229.27,243.97 229.42,243.38 229.58,243.46 229.74,244.19 229.90,245.57 230.05,247.58 230.21,250.19 230.37,253.36 230.53,257.05 230.69,261.21 230.84,265.76 231.00,270.65 231.16,275.81 231.32,281.16 231.48,286.62 231.63,292.12 231.79,297.57 231.95,302.90 232.11,308.03 232.26,312.88 232.42,317.38 232.58,321.48 232.74,325.10 232.90,328.20 233.05,330.73 233.21,332.66 233.37,333.95 233.53,334.59 233.69,334.57 233.84,333.90 234.00,332.57 234.16,330.61 234.32,328.04 234.48,324.91 234.63,321.26 234.79,317.15 234.95,312.62 235.11,307.75 235.26,302.61 235.42,297.28 235.58,291.82 235.74,286.32 235.90,280.86 236.05,275.52 236.21,270.38 236.37,265.50 236.53,260.97 236.69,256.84 236.84,253.18 237.00,250.03 237.16,247.45 237.32,245.48 237.47,244.13 237.63,243.43 237.79,243.40 237.95,244.02 238.11,245.30 238.26,247.21 238.42,249.73 238.58,252.81 238.74,256.42 238.90,260.51 239.05,265.00 239.21,269.84 239.37,274.96 239.53,280.29 239.69,285.74 239.84,291.23 240.00,296.70 240.16,302.05 240.32,307.22 240.47,312.12 240.63,316.68 240.79,320.84 240.95,324.55 241.11,327.73 241.26,330.36 241.42,332.39 241.58,333.78 241.74,334.53 241.90,334.62 242.05,334.05 242.21,332.82 242.37,330.96 242.53,328.50 242.68,325.46 242.84,321.89 243.00,317.84 243.16,313.38 243.32,308.56 243.47,303.46 243.63,298.15 243.79,292.71 243.95,287.21 244.11,281.74 244.26,276.37 244.42,271.19 244.58,266.27 244.74,261.67 244.89,257.48 245.05,253.73 245.21,250.50 245.37,247.83 245.53,245.75 245.68,244.30 245.84,243.50 246.00,243.36" fill="none" stroke="#000" stroke-width="1.55" stroke-linejoin="round"/>
<rect x="44.9" y="220.5" width="219.40" height="137.00" fill="none" stroke="#000" stroke-width="2.1"/>
<path d="M72.33 357.50v-4.5M72.33 220.50v4.5M127.18 357.50v-4.5M127.18 220.50v4.5M182.03 357.50v-4.5M182.03 220.50v4.5M236.88 357.50v-4.5M236.88 220.50v4.5M44.90 243.33h4.5M264.30 243.33h-4.5M44.90 289.00h4.5M264.30 289.00h-4.5M44.90 334.67h4.5M264.30 334.67h-4.5" stroke="#000" stroke-width="2.0" fill="none"/>
<text x="27.97" y="246.79">1</text>
<text x="28.98" y="293.80">0</text>
<text x="22.08" y="339.80">−1</text>
<text x="60.04" y="372.78">192</text>
<text x="115.17" y="372.78">193</text>
<text x="170.80" y="372.78">194</text>
<text x="226.57" y="372.78">195</text>
<text x="102.48" y="391.50" word-spacing="1.2">Frequency (THz)</text>
<text transform="translate(16.00,332.12) rotate(-90)" word-spacing="2.0">Intensity (a.u.)</text>
<text x="4.75" y="217.39">(c)</text>
<rect x="330.65" y="17.5" width="214.35" height="134.00" fill="none" stroke="#000" stroke-width="2.1"/>
<path d="M352.08 151.50v-4.5M352.08 17.50v4.5M394.95 151.50v-4.5M394.95 17.50v4.5M437.82 151.50v-4.5M437.82 17.50v4.5M480.69 151.50v-4.5M480.69 17.50v4.5M523.57 151.50v-4.5M523.57 17.50v4.5M330.65 139.32h4.5M545.00 139.32h-4.5M330.65 78.41h4.5M545.00 78.41h-4.5" stroke="#000" stroke-width="2.0" fill="none"/>
<path d="M329.53 139.61a1.12 1.12 0 1 0 2.24 0a1.12 1.12 0 1 0 -2.24 0M330.14 139.61a1.12 1.12 0 1 0 2.24 0a1.12 1.12 0 1 0 -2.24 0M330.75 139.61a1.12 1.12 0 1 0 2.24 0a1.12 1.12 0 1 0 -2.24 0M331.37 139.61a1.12 1.12 0 1 0 2.24 0a1.12 1.12 0 1 0 -2.24 0M331.98 139.61a1.12 1.12 0 1 0 2.24 0a1.12 1.12 0 1 0 -2.24 0M332.59 139.61a1.12 1.12 0 1 0 2.24 0a1.12 1.12 0 1 0 -2.24 0M333.20 139.61a1.12 1.12 0 1 0 2.24 0a1.12 1.12 0 1 0 -2.24 0M333.82 139.61a1.12 1.12 0 1 0 2.24 0a1.12 1.12 0 1 0 -2.24 0M334.43 139.61a1.12 1.12 0 1 0 2.24 0a1.12 1.12 0 1 0 -2.24 0M335.04 139.61a1.12 1.12 0 1 0 2.24 0a1.12 1.12 0 1 0 -2.24 0M335.65 139.61a1.12 1.12 0 1 0 2.24 0a1.12 1.12 0 1 0 -2.24 0M336.27 139.61a1.12 1.12 0 1 0 2.24 0a1.12 1.12 0 1 0 -2.24 0M336.88 139.61a1.12 1.12 0 1 0 2.24 0a1.12 1.12 0 1 0 -2.24 0M337.49 139.60a1.12 1.12 0 1 0 2.24 0a1.12 1.12 0 1 0 -2.24 0M338.10 139.60a1.12 1.12 0 1 0 2.24 0a1.12 1.12 0 1 0 -2.24 0M338.72 139.60a1.12 1.12 0 1 0 2.24 0a1.12 1.12 0 1 0 -2.24 0M339.33 139.60a1.12 1.12 0 1 0 2.24 0a1.12 1.12 0 1 0 -2.24 0M339.94 139.60a1.12 1.12 0 1 0 2.24 0a1.12 1.12 0 1 0 -2.24 0M340.55 139.60a1.12 1.12 0 1 0 2.24 0a1.12 1.12 0 1 0 -2.24 0M341.17 139.60a1.12 1.12 0 1 0 2.24 0a1.12 1.12 0 1 0 -2.24 0M341.78 139.60a1.12 1.12 0 1 0 2.24 0a1.12 1.12 0 1 0 -2.24 0M342.39 139.60a1.12 1.12 0 1 0 2.24 0a1.12 1.12 0 1 0 -2.24 0M343.00 139.60a1.12 1.12 0 1 0 2.24 0a1.12 1.12 0 1 0 -2.24 0M343.62 139.60a1.12 1.12 0 1 0 2.24 0a1.12 1.12 0 1 0 -2.24 0M344.23 139.60a1.12 1.12 0 1 0 2.24 0a1.12 1.12 0 1 0 -2.24 0M344.84 139.60a1.12 1.12 0 1 0 2.24 0a1.12 1.12 0 1 0 -2.24 0M345.45 139.60a1.12 1.12 0 1 0 2.24 0a1.12 1.12 0 1 0 -2.24 0M346.07 139.60a1.12 1.12 0 1 0 2.24 0a1.12 1.12 0 1 0 -2.24 0M346.68 139.60a1.12 1.12 0 1 0 2.24 0a1.12 1.12 0 1 0 -2.24 0M347.29 139.60a1.12 1.12 0 1 0 2.24 0a1.12 1.12 0 1 0 -2.24 0M347.90 139.60a1.12 1.12 0 1 0 2.24 0a1.12 1.12 0 1 0 -2.24 0M348.52 139.60a1.12 1.12 0 1 0 2.24 0a1.12 1.12 0 1 0 -2.24 0M349.13 139.59a1.12 1.12 0 1 0 2.24 0a1.12 1.12 0 1 0 -2.24 0M349.74 139.59a1.12 1.12 0 1 0 2.24 0a1.12 1.12 0 1 0 -2.24 0M350.35 139.59a1.12 1.12 0 1 0 2.24 0a1.12 1.12 0 1 0 -2.24 0M350.96 139.59a1.12 1.12 0 1 0 2.24 0a1.12 1.12 0 1 0 -2.24 0M351.58 139.59a1.12 1.12 0 1 0 2.24 0a1.12 1.12 0 1 0 -2.24 0M352.19 139.59a1.12 1.12 0 1 0 2.24 0a1.12 1.12 0 1 0 -2.24 0M352.80 139.59a1.12 1.12 0 1 0 2.24 0a1.12 1.12 0 1 0 -2.24 0M353.41 139.59a1.12 1.12 0 1 0 2.24 0a1.12 1.12 0 1 0 -2.24 0M354.03 139.59a1.12 1.12 0 1 0 2.24 0a1.12 1.12 0 1 0 -2.24 0M354.64 139.59a1.12 1.12 0 1 0 2.24 0a1.12 1.12 0 1 0 -2.24 0M355.25 139.58a1.12 1.12 0 1 0 2.24 0a1.12 1.12 0 1 0 -2.24 0M355.86 139.58a1.12 1.12 0 1 0 2.24 0a1.12 1.12 0 1 0 -2.24 0M356.48 139.58a1.12 1.12 0 1 0 2.24 0a1.12 1.12 0 1 0 -2.24 0M357.09 139.58a1.12 1.12 0 1 0 2.24 0a1.12 1.12 0 1 0 -2.24 0M357.70 139.58a1.12 1.12 0 1 0 2.24 0a1.12 1.12 0 1 0 -2.24 0M358.31 139.58a1.12 1.12 0 1 0 2.24 0a1.12 1.12 0 1 0 -2.24 0M358.93 139.58a1.12 1.12 0 1 0 2.24 0a1.12 1.12 0 1 0 -2.24 0M359.54 139.58a1.12 1.12 0 1 0 2.24 0a1.12 1.12 0 1 0 -2.24 0M360.15 139.57a1.12 1.12 0 1 0 2.24 0a1.12 1.12 0 1 0 -2.24 0M360.76 139.57a1.12 1.12 0 1 0 2.24 0a1.12 1.12 0 1 0 -2.24 0M361.38 139.57a1.12 1.12 0 1 0 2.24 0a1.12 1.12 0 1 0 -2.24 0M361.99 139.57a1.12 1.12 0 1 0 2.24 0a1.12 1.12 0 1 0 -2.24 0M362.60 139.57a1.12 1.12 0 1 0 2.24 0a1.12 1.12 0 1 0 -2.24 0M363.21 139.57a1.12 1.12 0 1 0 2.24 0a1.12 1.12 0 1 0 -2.24 0M363.83 139.56a1.12 1.12 0 1 0 2.24 0a1.12 1.12 0 1 0 -2.24 0M364.44 139.56a1.12 1.12 0 1 0 2.24 0a1.12 1.12 0 1 0 -2.24 0M365.05 139.56a1.12 1.12 0 1 0 2.24 0a1.12 1.12 0 1 0 -2.24 0M365.66 139.56a1.12 1.12 0 1 0 2.24 0a1.12 1.12 0 1 0 -2.24 0M366.28 139.56a1.12 1.12 0 1 0 2.24 0a1.12 1.12 0 1 0 -2.24 0M366.89 139.55a1.12 1.12 0 1 0 2.24 0a1.12 1.12 0 1 0 -2.24 0M367.50 139.55a1.12 1.12 0 1 0 2.24 0a1.12 1.12 0 1 0 -2.24 0M368.11 139.55a1.12 1.12 0 1 0 2.24 0a1.12 1.12 0 1 0 -2.24 0M368.73 139.55a1.12 1.12 0 1 0 2.24 0a1.12 1.12 0 1 0 -2.24 0M369.34 139.54a1.12 1.12 0 1 0 2.24 0a1.12 1.12 0 1 0 -2.24 0M369.95 139.54a1.12 1.12 0 1 0 2.24 0a1.12 1.12 0 1 0 -2.24 0M370.56 139.54a1.12 1.12 0 1 0 2.24 0a1.12 1.12 0 1 0 -2.24 0M371.18 139.54a1.12 1.12 0 1 0 2.24 0a1.12 1.12 0 1 0 -2.24 0M371.79 139.53a1.12 1.12 0 1 0 2.24 0a1.12 1.12 0 1 0 -2.24 0M372.40 139.53a1.12 1.12 0 1 0 2.24 0a1.12 1.12 0 1 0 -2.24 0M373.01 139.53a1.12 1.12 0 1 0 2.24 0a1.12 1.12 0 1 0 -2.24 0M373.62 139.53a1.12 1.12 0 1 0 2.24 0a1.12 1.12 0 1 0 -2.24 0M374.24 139.52a1.12 1.12 0 1 0 2.24 0a1.12 1.12 0 1 0 -2.24 0M374.85 139.52a1.12 1.12 0 1 0 2.24 0a1.12 1.12 0 1 0 -2.24 0M375.46 139.52a1.12 1.12 0 1 0 2.24 0a1.12 1.12 0 1 0 -2.24 0M376.07 139.51a1.12 1.12 0 1 0 2.24 0a1.12 1.12 0 1 0 -2.24 0M376.69 139.51a1.12 1.12 0 1 0 2.24 0a1.12 1.12 0 1 0 -2.24 0M377.30 139.50a1.12 1.12 0 1 0 2.24 0a1.12 1.12 0 1 0 -2.24 0M377.91 139.50a1.12 1.12 0 1 0 2.24 0a1.12 1.12 0 1 0 -2.24 0M378.52 139.50a1.12 1.12 0 1 0 2.24 0a1.12 1.12 0 1 0 -2.24 0M379.14 139.49a1.12 1.12 0 1 0 2.24 0a1.12 1.12 0 1 0 -2.24 0M379.75 139.49a1.12 1.12 0 1 0 2.24 0a1.12 1.12 0 1 0 -2.24 0M380.36 139.48a1.12 1.12 0 1 0 2.24 0a1.12 1.12 0 1 0 -2.24 0M380.97 139.48a1.12 1.12 0 1 0 2.24 0a1.12 1.12 0 1 0 -2.24 0M381.59 139.47a1.12 1.12 0 1 0 2.24 0a1.12 1.12 0 1 0 -2.24 0M382.20 139.47a1.12 1.12 0 1 0 2.24 0a1.12 1.12 0 1 0 -2.24 0M382.81 139.46a1.12 1.12 0 1 0 2.24 0a1.12 1.12 0 1 0 -2.24 0M383.42 139.46a1.12 1.12 0 1 0 2.24 0a1.12 1.12 0 1 0 -2.24 0M384.04 139.45a1.12 1.12 0 1 0 2.24 0a1.12 1.12 0 1 0 -2.24 0M384.65 139.45a1.12 1.12 0 1 0 2.24 0a1.12 1.12 0 1 0 -2.24 0M385.26 139.44a1.12 1.12 0 1 0 2.24 0a1.12 1.12 0 1 0 -2.24 0M385.87 139.43a1.12 1.12 0 1 0 2.24 0a1.12 1.12 0 1 0 -2.24 0M386.49 139.43a1.12 1.12 0 1 0 2.24 0a1.12 1.12 0 1 0 -2.24 0M387.10 139.42a1.12 1.12 0 1 0 2.24 0a1.12 1.12 0 1 0 -2.24 0M387.71 139.41a1.12 1.12 0 1 0 2.24 0a1.12 1.12 0 1 0 -2.24 0M388.32 139.41a1.12 1.12 0 1 0 2.24 0a1.12 1.12 0 1 0 -2.24 0M388.94 139.40a1.12 1.12 0 1 0 2.24 0a1.12 1.12 0 1 0 -2.24 0M389.55 139.39a1.12 1.12 0 1 0 2.24 0a1.12 1.12 0 1 0 -2.24 0M390.16 139.38a1.12 1.12 0 1 0 2.24 0a1.12 1.12 0 1 0 -2.24 0M390.77 139.37a1.12 1.12 0 1 0 2.24 0a1.12 1.12 0 1 0 -2.24 0M391.39 139.36a1.12 1.12 0 1 0 2.24 0a1.12 1.12 0 1 0 -2.24 0M392.00 139.35a1.12 1.12 0 1 0 2.24 0a1.12 1.12 0 1 0 -2.24 0M392.61 139.34a1.12 1.12 0 1 0 2.24 0a1.12 1.12 0 1 0 -2.24 0M393.22 139.33a1.12 1.12 0 1 0 2.24 0a1.12 1.12 0 1 0 -2.24 0M393.83 139.32a1.12 1.12 0 1 0 2.24 0a1.12 1.12 0 1 0 -2.24 0M394.45 139.31a1.12 1.12 0 1 0 2.24 0a1.12 1.12 0 1 0 -2.24 0M395.06 139.29a1.12 1.12 0 1 0 2.24 0a1.12 1.12 0 1 0 -2.24 0M395.67 139.28a1.12 1.12 0 1 0 2.24 0a1.12 1.12 0 1 0 -2.24 0M396.28 139.27a1.12 1.12 0 1 0 2.24 0a1.12 1.12 0 1 0 -2.24 0M396.90 139.25a1.12 1.12 0 1 0 2.24 0a1.12 1.12 0 1 0 -2.24 0M397.51 139.24a1.12 1.12 0 1 0 2.24 0a1.12 1.12 0 1 0 -2.24 0M398.12 139.22a1.12 1.12 0 1 0 2.24 0a1.12 1.12 0 1 0 -2.24 0M398.73 139.20a1.12 1.12 0 1 0 2.24 0a1.12 1.12 0 1 0 -2.24 0M399.35 139.18a1.12 1.12 0 1 0 2.24 0a1.12 1.12 0 1 0 -2.24 0M399.96 139.16a1.12 1.12 0 1 0 2.24 0a1.12 1.12 0 1 0 -2.24 0M400.57 139.14a1.12 1.12 0 1 0 2.24 0a1.12 1.12 0 1 0 -2.24 0M401.18 139.12a1.12 1.12 0 1 0 2.24 0a1.12 1.12 0 1 0 -2.24 0M401.80 139.09a1.12 1.12 0 1 0 2.24 0a1.12 1.12 0 1 0 -2.24 0M402.41 139.07a1.12 1.12 0 1 0 2.24 0a1.12 1.12 0 1 0 -2.24 0M403.02 139.04a1.12 1.12 0 1 0 2.24 0a1.12 1.12 0 1 0 -2.24 0M403.63 139.01a1.12 1.12 0 1 0 2.24 0a1.12 1.12 0 1 0 -2.24 0M404.25 138.98a1.12 1.12 0 1 0 2.24 0a1.12 1.12 0 1 0 -2.24 0M404.86 138.94a1.12 1.12 0 1 0 2.24 0a1.12 1.12 0 1 0 -2.24 0M405.47 138.90a1.12 1.12 0 1 0 2.24 0a1.12 1.12 0 1 0 -2.24 0M406.08 138.86a1.12 1.12 0 1 0 2.24 0a1.12 1.12 0 1 0 -2.24 0M406.70 138.82a1.12 1.12 0 1 0 2.24 0a1.12 1.12 0 1 0 -2.24 0M407.31 138.77a1.12 1.12 0 1 0 2.24 0a1.12 1.12 0 1 0 -2.24 0M407.92 138.72a1.12 1.12 0 1 0 2.24 0a1.12 1.12 0 1 0 -2.24 0M408.53 138.66a1.12 1.12 0 1 0 2.24 0a1.12 1.12 0 1 0 -2.24 0M409.15 138.60a1.12 1.12 0 1 0 2.24 0a1.12 1.12 0 1 0 -2.24 0M409.76 138.53a1.12 1.12 0 1 0 2.24 0a1.12 1.12 0 1 0 -2.24 0M410.37 138.45a1.12 1.12 0 1 0 2.24 0a1.12 1.12 0 1 0 -2.24 0M410.98 138.36a1.12 1.12 0 1 0 2.24 0a1.12 1.12 0 1 0 -2.24 0M411.60 138.27a1.12 1.12 0 1 0 2.24 0a1.12 1.12 0 1 0 -2.24 0M412.21 138.16a1.12 1.12 0 1 0 2.24 0a1.12 1.12 0 1 0 -2.24 0M412.82 138.03a1.12 1.12 0 1 0 2.24 0a1.12 1.12 0 1 0 -2.24 0M413.43 137.89a1.12 1.12 0 1 0 2.24 0a1.12 1.12 0 1 0 -2.24 0M414.05 137.73a1.12 1.12 0 1 0 2.24 0a1.12 1.12 0 1 0 -2.24 0M414.66 137.54a1.12 1.12 0 1 0 2.24 0a1.12 1.12 0 1 0 -2.24 0M415.27 137.31a1.12 1.12 0 1 0 2.24 0a1.12 1.12 0 1 0 -2.24 0M415.88 137.04a1.12 1.12 0 1 0 2.24 0a1.12 1.12 0 1 0 -2.24 0M416.49 136.72a1.12 1.12 0 1 0 2.24 0a1.12 1.12 0 1 0 -2.24 0M417.11 136.31a1.12 1.12 0 1 0 2.24 0a1.12 1.12 0 1 0 -2.24 0M417.72 135.80a1.12 1.12 0 1 0 2.24 0a1.12 1.12 0 1 0 -2.24 0M418.33 135.13a1.12 1.12 0 1 0 2.24 0a1.12 1.12 0 1 0 -2.24 0M418.94 134.22a1.12 1.12 0 1 0 2.24 0a1.12 1.12 0 1 0 -2.24 0M419.56 132.91a1.12 1.12 0 1 0 2.24 0a1.12 1.12 0 1 0 -2.24 0M420.17 130.88a1.12 1.12 0 1 0 2.24 0a1.12 1.12 0 1 0 -2.24 0M425.07 130.96a1.12 1.12 0 1 0 2.24 0a1.12 1.12 0 1 0 -2.24 0M425.68 132.43a1.12 1.12 0 1 0 2.24 0a1.12 1.12 0 1 0 -2.24 0M426.29 133.43a1.12 1.12 0 1 0 2.24 0a1.12 1.12 0 1 0 -2.24 0M426.91 134.15a1.12 1.12 0 1 0 2.24 0a1.12 1.12 0 1 0 -2.24 0M427.52 134.69a1.12 1.12 0 1 0 2.24 0a1.12 1.12 0 1 0 -2.24 0M428.13 135.11a1.12 1.12 0 1 0 2.24 0a1.12 1.12 0 1 0 -2.24 0M428.74 135.44a1.12 1.12 0 1 0 2.24 0a1.12 1.12 0 1 0 -2.24 0M429.36 135.71a1.12 1.12 0 1 0 2.24 0a1.12 1.12 0 1 0 -2.24 0M429.97 135.93a1.12 1.12 0 1 0 2.24 0a1.12 1.12 0 1 0 -2.24 0M430.58 136.11a1.12 1.12 0 1 0 2.24 0a1.12 1.12 0 1 0 -2.24 0M431.19 136.26a1.12 1.12 0 1 0 2.24 0a1.12 1.12 0 1 0 -2.24 0M431.81 136.38a1.12 1.12 0 1 0 2.24 0a1.12 1.12 0 1 0 -2.24 0M432.42 136.48a1.12 1.12 0 1 0 2.24 0a1.12 1.12 0 1 0 -2.24 0M433.03 136.56a1.12 1.12 0 1 0 2.24 0a1.12 1.12 0 1 0 -2.24 0M433.64 136.63a1.12 1.12 0 1 0 2.24 0a1.12 1.12 0 1 0 -2.24 0M434.26 136.68a1.12 1.12 0 1 0 2.24 0a1.12 1.12 0 1 0 -2.24 0M434.87 136.72a1.12 1.12 0 1 0 2.24 0a1.12 1.12 0 1 0 -2.24 0M435.48 136.75a1.12 1.12 0 1 0 2.24 0a1.12 1.12 0 1 0 -2.24 0M436.09 136.77a1.12 1.12 0 1 0 2.24 0a1.12 1.12 0 1 0 -2.24 0M436.70 136.77a1.12 1.12 0 1 0 2.24 0a1.12 1.12 0 1 0 -2.24 0M437.32 136.77a1.12 1.12 0 1 0 2.24 0a1.12 1.12 0 1 0 -2.24 0M437.93 136.75a1.12 1.12 0 1 0 2.24 0a1.12 1.12 0 1 0 -2.24 0M438.54 136.72a1.12 1.12 0 1 0 2.24 0a1.12 1.12 0 1 0 -2.24 0M439.15 136.68a1.12 1.12 0 1 0 2.24 0a1.12 1.12 0 1 0 -2.24 0M439.77 136.63a1.12 1.12 0 1 0 2.24 0a1.12 1.12 0 1 0 -2.24 0M440.38 136.56a1.12 1.12 0 1 0 2.24 0a1.12 1.12 0 1 0 -2.24 0M440.99 136.48a1.12 1.12 0 1 0 2.24 0a1.12 1.12 0 1 0 -2.24 0M441.60 136.38a1.12 1.12 0 1 0 2.24 0a1.12 1.12 0 1 0 -2.24 0M442.22 136.26a1.12 1.12 0 1 0 2.24 0a1.12 1.12 0 1 0 -2.24 0M442.83 136.11a1.12 1.12 0 1 0 2.24 0a1.12 1.12 0 1 0 -2.24 0M443.44 135.93a1.12 1.12 0 1 0 2.24 0a1.12 1.12 0 1 0 -2.24 0M444.05 135.71a1.12 1.12 0 1 0 2.24 0a1.12 1.12 0 1 0 -2.24 0M444.67 135.44a1.12 1.12 0 1 0 2.24 0a1.12 1.12 0 1 0 -2.24 0M445.28 135.11a1.12 1.12 0 1 0 2.24 0a1.12 1.12 0 1 0 -2.24 0M445.89 134.69a1.12 1.12 0 1 0 2.24 0a1.12 1.12 0 1 0 -2.24 0M446.50 134.15a1.12 1.12 0 1 0 2.24 0a1.12 1.12 0 1 0 -2.24 0M447.12 133.43a1.12 1.12 0 1 0 2.24 0a1.12 1.12 0 1 0 -2.24 0M447.73 132.43a1.12 1.12 0 1 0 2.24 0a1.12 1.12 0 1 0 -2.24 0M448.34 130.96a1.12 1.12 0 1 0 2.24 0a1.12 1.12 0 1 0 -2.24 0M453.24 130.88a1.12 1.12 0 1 0 2.24 0a1.12 1.12 0 1 0 -2.24 0M453.85 132.91a1.12 1.12 0 1 0 2.24 0a1.12 1.12 0 1 0 -2.24 0M454.47 134.22a1.12 1.12 0 1 0 2.24 0a1.12 1.12 0 1 0 -2.24 0M455.08 135.13a1.12 1.12 0 1 0 2.24 0a1.12 1.12 0 1 0 -2.24 0M455.69 135.80a1.12 1.12 0 1 0 2.24 0a1.12 1.12 0 1 0 -2.24 0M456.30 136.31a1.12 1.12 0 1 0 2.24 0a1.12 1.12 0 1 0 -2.24 0M456.92 136.72a1.12 1.12 0 1 0 2.24 0a1.12 1.12 0 1 0 -2.24 0M457.53 137.04a1.12 1.12 0 1 0 2.24 0a1.12 1.12 0 1 0 -2.24 0M458.14 137.31a1.12 1.12 0 1 0 2.24 0a1.12 1.12 0 1 0 -2.24 0M458.75 137.54a1.12 1.12 0 1 0 2.24 0a1.12 1.12 0 1 0 -2.24 0M459.36 137.73a1.12 1.12 0 1 0 2.24 0a1.12 1.12 0 1 0 -2.24 0M459.98 137.89a1.12 1.12 0 1 0 2.24 0a1.12 1.12 0 1 0 -2.24 0M460.59 138.03a1.12 1.12 0 1 0 2.24 0a1.12 1.12 0 1 0 -2.24 0M461.20 138.16a1.12 1.12 0 1 0 2.24 0a1.12 1.12 0 1 0 -2.24 0M461.81 138.27a1.12 1.12 0 1 0 2.24 0a1.12 1.12 0 1 0 -2.24 0M462.43 138.36a1.12 1.12 0 1 0 2.24 0a1.12 1.12 0 1 0 -2.24 0M463.04 138.45a1.12 1.12 0 1 0 2.24 0a1.12 1.12 0 1 0 -2.24 0M463.65 138.53a1.12 1.12 0 1 0 2.24 0a1.12 1.12 0 1 0 -2.24 0M464.26 138.60a1.12 1.12 0 1 0 2.24 0a1.12 1.12 0 1 0 -2.24 0M464.88 138.66a1.12 1.12 0 1 0 2.24 0a1.12 1.12 0 1 0 -2.24 0M465.49 138.72a1.12 1.12 0 1 0 2.24 0a1.12 1.12 0 1 0 -2.24 0M466.10 138.77a1.12 1.12 0 1 0 2.24 0a1.12 1.12 0 1 0 -2.24 0M466.71 138.82a1.12 1.12 0 1 0 2.24 0a1.12 1.12 0 1 0 -2.24 0M467.33 138.86a1.12 1.12 0 1 0 2.24 0a1.12 1.12 0 1 0 -2.24 0M467.94 138.90a1.12 1.12 0 1 0 2.24 0a1.12 1.12 0 1 0 -2.24 0M468.55 138.94a1.12 1.12 0 1 0 2.24 0a1.12 1.12 0 1 0 -2.24 0M469.16 138.98a1.12 1.12 0 1 0 2.24 0a1.12 1.12 0 1 0 -2.24 0M469.78 139.01a1.12 1.12 0 1 0 2.24 0a1.12 1.12 0 1 0 -2.24 0M470.39 139.04a1.12 1.12 0 1 0 2.24 0a1.12 1.12 0 1 0 -2.24 0M471.00 139.07a1.12 1.12 0 1 0 2.24 0a1.12 1.12 0 1 0 -2.24 0M471.61 139.09a1.12 1.12 0 1 0 2.24 0a1.12 1.12 0 1 0 -2.24 0M472.23 139.12a1.12 1.12 0 1 0 2.24 0a1.12 1.12 0 1 0 -2.24 0M472.84 139.14a1.12 1.12 0 1 0 2.24 0a1.12 1.12 0 1 0 -2.24 0M473.45 139.16a1.12 1.12 0 1 0 2.24 0a1.12 1.12 0 1 0 -2.24 0M474.06 139.18a1.12 1.12 0 1 0 2.24 0a1.12 1.12 0 1 0 -2.24 0M474.68 139.20a1.12 1.12 0 1 0 2.24 0a1.12 1.12 0 1 0 -2.24 0M475.29 139.22a1.12 1.12 0 1 0 2.24 0a1.12 1.12 0 1 0 -2.24 0M475.90 139.24a1.12 1.12 0 1 0 2.24 0a1.12 1.12 0 1 0 -2.24 0M476.51 139.25a1.12 1.12 0 1 0 2.24 0a1.12 1.12 0 1 0 -2.24 0M477.13 139.27a1.12 1.12 0 1 0 2.24 0a1.12 1.12 0 1 0 -2.24 0M477.74 139.28a1.12 1.12 0 1 0 2.24 0a1.12 1.12 0 1 0 -2.24 0M478.35 139.29a1.12 1.12 0 1 0 2.24 0a1.12 1.12 0 1 0 -2.24 0M478.96 139.31a1.12 1.12 0 1 0 2.24 0a1.12 1.12 0 1 0 -2.24 0M479.57 139.32a1.12 1.12 0 1 0 2.24 0a1.12 1.12 0 1 0 -2.24 0M480.19 139.33a1.12 1.12 0 1 0 2.24 0a1.12 1.12 0 1 0 -2.24 0M480.80 139.34a1.12 1.12 0 1 0 2.24 0a1.12 1.12 0 1 0 -2.24 0M481.41 139.35a1.12 1.12 0 1 0 2.24 0a1.12 1.12 0 1 0 -2.24 0M482.02 139.36a1.12 1.12 0 1 0 2.24 0a1.12 1.12 0 1 0 -2.24 0M482.64 139.37a1.12 1.12 0 1 0 2.24 0a1.12 1.12 0 1 0 -2.24 0M483.25 139.38a1.12 1.12 0 1 0 2.24 0a1.12 1.12 0 1 0 -2.24 0M483.86 139.39a1.12 1.12 0 1 0 2.24 0a1.12 1.12 0 1 0 -2.24 0M484.47 139.40a1.12 1.12 0 1 0 2.24 0a1.12 1.12 0 1 0 -2.24 0M485.09 139.41a1.12 1.12 0 1 0 2.24 0a1.12 1.12 0 1 0 -2.24 0M485.70 139.41a1.12 1.12 0 1 0 2.24 0a1.12 1.12 0 1 0 -2.24 0M486.31 139.42a1.12 1.12 0 1 0 2.24 0a1.12 1.12 0 1 0 -2.24 0M486.92 139.43a1.12 1.12 0 1 0 2.24 0a1.12 1.12 0 1 0 -2.24 0M487.54 139.43a1.12 1.12 0 1 0 2.24 0a1.12 1.12 0 1 0 -2.24 0M488.15 139.44a1.12 1.12 0 1 0 2.24 0a1.12 1.12 0 1 0 -2.24 0M488.76 139.45a1.12 1.12 0 1 0 2.24 0a1.12 1.12 0 1 0 -2.24 0M489.37 139.45a1.12 1.12 0 1 0 2.24 0a1.12 1.12 0 1 0 -2.24 0M489.99 139.46a1.12 1.12 0 1 0 2.24 0a1.12 1.12 0 1 0 -2.24 0M490.60 139.46a1.12 1.12 0 1 0 2.24 0a1.12 1.12 0 1 0 -2.24 0M491.21 139.47a1.12 1.12 0 1 0 2.24 0a1.12 1.12 0 1 0 -2.24 0M491.82 139.47a1.12 1.12 0 1 0 2.24 0a1.12 1.12 0 1 0 -2.24 0M492.44 139.48a1.12 1.12 0 1 0 2.24 0a1.12 1.12 0 1 0 -2.24 0M493.05 139.48a1.12 1.12 0 1 0 2.24 0a1.12 1.12 0 1 0 -2.24 0M493.66 139.49a1.12 1.12 0 1 0 2.24 0a1.12 1.12 0 1 0 -2.24 0M494.27 139.49a1.12 1.12 0 1 0 2.24 0a1.12 1.12 0 1 0 -2.24 0M494.89 139.50a1.12 1.12 0 1 0 2.24 0a1.12 1.12 0 1 0 -2.24 0M495.50 139.50a1.12 1.12 0 1 0 2.24 0a1.12 1.12 0 1 0 -2.24 0M496.11 139.50a1.12 1.12 0 1 0 2.24 0a1.12 1.12 0 1 0 -2.24 0M496.72 139.51a1.12 1.12 0 1 0 2.24 0a1.12 1.12 0 1 0 -2.24 0M497.34 139.51a1.12 1.12 0 1 0 2.24 0a1.12 1.12 0 1 0 -2.24 0M497.95 139.52a1.12 1.12 0 1 0 2.24 0a1.12 1.12 0 1 0 -2.24 0M498.56 139.52a1.12 1.12 0 1 0 2.24 0a1.12 1.12 0 1 0 -2.24 0M499.17 139.52a1.12 1.12 0 1 0 2.24 0a1.12 1.12 0 1 0 -2.24 0M499.79 139.53a1.12 1.12 0 1 0 2.24 0a1.12 1.12 0 1 0 -2.24 0M500.40 139.53a1.12 1.12 0 1 0 2.24 0a1.12 1.12 0 1 0 -2.24 0M501.01 139.53a1.12 1.12 0 1 0 2.24 0a1.12 1.12 0 1 0 -2.24 0M501.62 139.53a1.12 1.12 0 1 0 2.24 0a1.12 1.12 0 1 0 -2.24 0M502.23 139.54a1.12 1.12 0 1 0 2.24 0a1.12 1.12 0 1 0 -2.24 0M502.85 139.54a1.12 1.12 0 1 0 2.24 0a1.12 1.12 0 1 0 -2.24 0M503.46 139.54a1.12 1.12 0 1 0 2.24 0a1.12 1.12 0 1 0 -2.24 0M504.07 139.54a1.12 1.12 0 1 0 2.24 0a1.12 1.12 0 1 0 -2.24 0M504.68 139.55a1.12 1.12 0 1 0 2.24 0a1.12 1.12 0 1 0 -2.24 0M505.30 139.55a1.12 1.12 0 1 0 2.24 0a1.12 1.12 0 1 0 -2.24 0M505.91 139.55a1.12 1.12 0 1 0 2.24 0a1.12 1.12 0 1 0 -2.24 0M506.52 139.55a1.12 1.12 0 1 0 2.24 0a1.12 1.12 0 1 0 -2.24 0M507.13 139.56a1.12 1.12 0 1 0 2.24 0a1.12 1.12 0 1 0 -2.24 0M507.75 139.56a1.12 1.12 0 1 0 2.24 0a1.12 1.12 0 1 0 -2.24 0M508.36 139.56a1.12 1.12 0 1 0 2.24 0a1.12 1.12 0 1 0 -2.24 0M508.97 139.56a1.12 1.12 0 1 0 2.24 0a1.12 1.12 0 1 0 -2.24 0M509.58 139.56a1.12 1.12 0 1 0 2.24 0a1.12 1.12 0 1 0 -2.24 0M510.20 139.57a1.12 1.12 0 1 0 2.24 0a1.12 1.12 0 1 0 -2.24 0M510.81 139.57a1.12 1.12 0 1 0 2.24 0a1.12 1.12 0 1 0 -2.24 0M511.42 139.57a1.12 1.12 0 1 0 2.24 0a1.12 1.12 0 1 0 -2.24 0M512.03 139.57a1.12 1.12 0 1 0 2.24 0a1.12 1.12 0 1 0 -2.24 0M512.65 139.57a1.12 1.12 0 1 0 2.24 0a1.12 1.12 0 1 0 -2.24 0M513.26 139.57a1.12 1.12 0 1 0 2.24 0a1.12 1.12 0 1 0 -2.24 0M513.87 139.58a1.12 1.12 0 1 0 2.24 0a1.12 1.12 0 1 0 -2.24 0M514.48 139.58a1.12 1.12 0 1 0 2.24 0a1.12 1.12 0 1 0 -2.24 0M515.10 139.58a1.12 1.12 0 1 0 2.24 0a1.12 1.12 0 1 0 -2.24 0M515.71 139.58a1.12 1.12 0 1 0 2.24 0a1.12 1.12 0 1 0 -2.24 0M516.32 139.58a1.12 1.12 0 1 0 2.24 0a1.12 1.12 0 1 0 -2.24 0M516.93 139.58a1.12 1.12 0 1 0 2.24 0a1.12 1.12 0 1 0 -2.24 0M517.55 139.58a1.12 1.12 0 1 0 2.24 0a1.12 1.12 0 1 0 -2.24 0M518.16 139.58a1.12 1.12 0 1 0 2.24 0a1.12 1.12 0 1 0 -2.24 0M518.77 139.59a1.12 1.12 0 1 0 2.24 0a1.12 1.12 0 1 0 -2.24 0M519.38 139.59a1.12 1.12 0 1 0 2.24 0a1.12 1.12 0 1 0 -2.24 0M520.00 139.59a1.12 1.12 0 1 0 2.24 0a1.12 1.12 0 1 0 -2.24 0M520.61 139.59a1.12 1.12 0 1 0 2.24 0a1.12 1.12 0 1 0 -2.24 0M521.22 139.59a1.12 1.12 0 1 0 2.24 0a1.12 1.12 0 1 0 -2.24 0M521.83 139.59a1.12 1.12 0 1 0 2.24 0a1.12 1.12 0 1 0 -2.24 0M522.45 139.59a1.12 1.12 0 1 0 2.24 0a1.12 1.12 0 1 0 -2.24 0M523.06 139.59a1.12 1.12 0 1 0 2.24 0a1.12 1.12 0 1 0 -2.24 0M523.67 139.59a1.12 1.12 0 1 0 2.24 0a1.12 1.12 0 1 0 -2.24 0M524.28 139.59a1.12 1.12 0 1 0 2.24 0a1.12 1.12 0 1 0 -2.24 0M524.89 139.60a1.12 1.12 0 1 0 2.24 0a1.12 1.12 0 1 0 -2.24 0M525.51 139.60a1.12 1.12 0 1 0 2.24 0a1.12 1.12 0 1 0 -2.24 0M526.12 139.60a1.12 1.12 0 1 0 2.24 0a1.12 1.12 0 1 0 -2.24 0M526.73 139.60a1.12 1.12 0 1 0 2.24 0a1.12 1.12 0 1 0 -2.24 0M527.34 139.60a1.12 1.12 0 1 0 2.24 0a1.12 1.12 0 1 0 -2.24 0M527.96 139.60a1.12 1.12 0 1 0 2.24 0a1.12 1.12 0 1 0 -2.24 0M528.57 139.60a1.12 1.12 0 1 0 2.24 0a1.12 1.12 0 1 0 -2.24 0M529.18 139.60a1.12 1.12 0 1 0 2.24 0a1.12 1.12 0 1 0 -2.24 0M529.79 139.60a1.12 1.12 0 1 0 2.24 0a1.12 1.12 0 1 0 -2.24 0M530.41 139.60a1.12 1.12 0 1 0 2.24 0a1.12 1.12 0 1 0 -2.24 0M531.02 139.60a1.12 1.12 0 1 0 2.24 0a1.12 1.12 0 1 0 -2.24 0M531.63 139.60a1.12 1.12 0 1 0 2.24 0a1.12 1.12 0 1 0 -2.24 0M532.24 139.60a1.12 1.12 0 1 0 2.24 0a1.12 1.12 0 1 0 -2.24 0M532.86 139.60a1.12 1.12 0 1 0 2.24 0a1.12 1.12 0 1 0 -2.24 0M533.47 139.60a1.12 1.12 0 1 0 2.24 0a1.12 1.12 0 1 0 -2.24 0M534.08 139.60a1.12 1.12 0 1 0 2.24 0a1.12 1.12 0 1 0 -2.24 0M534.69 139.60a1.12 1.12 0 1 0 2.24 0a1.12 1.12 0 1 0 -2.24 0M535.31 139.60a1.12 1.12 0 1 0 2.24 0a1.12 1.12 0 1 0 -2.24 0M535.92 139.60a1.12 1.12 0 1 0 2.24 0a1.12 1.12 0 1 0 -2.24 0M536.53 139.61a1.12 1.12 0 1 0 2.24 0a1.12 1.12 0 1 0 -2.24 0M537.14 139.61a1.12 1.12 0 1 0 2.24 0a1.12 1.12 0 1 0 -2.24 0M537.76 139.61a1.12 1.12 0 1 0 2.24 0a1.12 1.12 0 1 0 -2.24 0M538.37 139.61a1.12 1.12 0 1 0 2.24 0a1.12 1.12 0 1 0 -2.24 0M538.98 139.61a1.12 1.12 0 1 0 2.24 0a1.12 1.12 0 1 0 -2.24 0M539.59 139.61a1.12 1.12 0 1 0 2.24 0a1.12 1.12 0 1 0 -2.24 0M540.21 139.61a1.12 1.12 0 1 0 2.24 0a1.12 1.12 0 1 0 -2.24 0M540.82 139.61a1.12 1.12 0 1 0 2.24 0a1.12 1.12 0 1 0 -2.24 0M541.43 139.61a1.12 1.12 0 1 0 2.24 0a1.12 1.12 0 1 0 -2.24 0M542.04 139.61a1.12 1.12 0 1 0 2.24 0a1.12 1.12 0 1 0 -2.24 0M542.66 139.61a1.12 1.12 0 1 0 2.24 0a1.12 1.12 0 1 0 -2.24 0M543.27 139.61a1.12 1.12 0 1 0 2.24 0a1.12 1.12 0 1 0 -2.24 0" fill="none" stroke="#ff0000" stroke-width="0.7"/>
<path d="M420.60 127.31a1.3 1.3 0 1 0 2.6 0a1.3 1.3 0 1 0 -2.6 0M421.21 119.38a1.3 1.3 0 1 0 2.6 0a1.3 1.3 0 1 0 -2.6 0M421.83 86.94a1.3 1.3 0 1 0 2.6 0a1.3 1.3 0 1 0 -2.6 0M422.44 40.53a1.3 1.3 0 1 0 2.6 0a1.3 1.3 0 1 0 -2.6 0M423.05 113.34a1.3 1.3 0 1 0 2.6 0a1.3 1.3 0 1 0 -2.6 0M423.66 124.23a1.3 1.3 0 1 0 2.6 0a1.3 1.3 0 1 0 -2.6 0M424.28 128.60a1.3 1.3 0 1 0 2.6 0a1.3 1.3 0 1 0 -2.6 0M448.77 128.60a1.3 1.3 0 1 0 2.6 0a1.3 1.3 0 1 0 -2.6 0M449.39 124.23a1.3 1.3 0 1 0 2.6 0a1.3 1.3 0 1 0 -2.6 0M450.00 113.34a1.3 1.3 0 1 0 2.6 0a1.3 1.3 0 1 0 -2.6 0M450.61 40.53a1.3 1.3 0 1 0 2.6 0a1.3 1.3 0 1 0 -2.6 0M451.22 86.94a1.3 1.3 0 1 0 2.6 0a1.3 1.3 0 1 0 -2.6 0M451.84 119.38a1.3 1.3 0 1 0 2.6 0a1.3 1.3 0 1 0 -2.6 0M452.45 127.31a1.3 1.3 0 1 0 2.6 0a1.3 1.3 0 1 0 -2.6 0" fill="none" stroke="#ff5464" stroke-width="0.75"/>
<text x="277.30" y="13.89">(b)</text>
<text x="303.84" y="25.07">0.5</text>
<text x="296.42" y="83.02">0.25</text>
<text x="314.12" y="145.10">0</text>
<text x="337.13" y="169.85">−40</text>
<text x="380.78" y="169.85">−20</text>
<text x="432.77" y="169.85">0</text>
<text x="474.71" y="169.85">20</text>
<text x="516.68" y="169.85">40</text>
<text x="408.94" y="189.50" word-spacing="0.8">Time (ps)</text>
<text transform="translate(287.60,116.14) rotate(-90)">Amplitude</text>
<rect x="328.6" y="220.5" width="214.80" height="136.90" fill="none" stroke="#000" stroke-width="2.1"/>
<path d="M350.08 357.40v-4.5M350.08 220.50v4.5M393.04 357.40v-4.5M393.04 220.50v4.5M436.00 357.40v-4.5M436.00 220.50v4.5M478.96 357.40v-4.5M478.96 220.50v4.5M521.92 357.40v-4.5M521.92 220.50v4.5M328.60 346.87h4.5M543.40 346.87h-4.5M328.60 304.75h4.5M543.40 304.75h-4.5M328.60 262.62h4.5M543.40 262.62h-4.5" stroke="#000" stroke-width="2.0" fill="none"/>
<path d="M327.00 346.87a1.6 1.6 0 1 0 3.2 0a1.6 1.6 0 1 0 -3.2 0M327.61 346.87a1.6 1.6 0 1 0 3.2 0a1.6 1.6 0 1 0 -3.2 0M328.23 346.87a1.6 1.6 0 1 0 3.2 0a1.6 1.6 0 1 0 -3.2 0M328.84 346.87a1.6 1.6 0 1 0 3.2 0a1.6 1.6 0 1 0 -3.2 0M329.45 346.87a1.6 1.6 0 1 0 3.2 0a1.6 1.6 0 1 0 -3.2 0M330.07 346.87a1.6 1.6 0 1 0 3.2 0a1.6 1.6 0 1 0 -3.2 0M330.68 346.87a1.6 1.6 0 1 0 3.2 0a1.6 1.6 0 1 0 -3.2 0M331.30 346.87a1.6 1.6 0 1 0 3.2 0a1.6 1.6 0 1 0 -3.2 0M331.91 346.87a1.6 1.6 0 1 0 3.2 0a1.6 1.6 0 1 0 -3.2 0M332.52 346.87a1.6 1.6 0 1 0 3.2 0a1.6 1.6 0 1 0 -3.2 0M333.14 346.87a1.6 1.6 0 1 0 3.2 0a1.6 1.6 0 1 0 -3.2 0M333.75 346.87a1.6 1.6 0 1 0 3.2 0a1.6 1.6 0 1 0 -3.2 0M334.36 346.87a1.6 1.6 0 1 0 3.2 0a1.6 1.6 0 1 0 -3.2 0M334.98 346.87a1.6 1.6 0 1 0 3.2 0a1.6 1.6 0 1 0 -3.2 0M335.59 346.87a1.6 1.6 0 1 0 3.2 0a1.6 1.6 0 1 0 -3.2 0M336.21 346.87a1.6 1.6 0 1 0 3.2 0a1.6 1.6 0 1 0 -3.2 0M336.82 346.87a1.6 1.6 0 1 0 3.2 0a1.6 1.6 0 1 0 -3.2 0M337.43 346.87a1.6 1.6 0 1 0 3.2 0a1.6 1.6 0 1 0 -3.2 0M338.05 346.87a1.6 1.6 0 1 0 3.2 0a1.6 1.6 0 1 0 -3.2 0M338.66 346.87a1.6 1.6 0 1 0 3.2 0a1.6 1.6 0 1 0 -3.2 0M339.27 346.87a1.6 1.6 0 1 0 3.2 0a1.6 1.6 0 1 0 -3.2 0M339.89 346.87a1.6 1.6 0 1 0 3.2 0a1.6 1.6 0 1 0 -3.2 0M340.50 346.87a1.6 1.6 0 1 0 3.2 0a1.6 1.6 0 1 0 -3.2 0M341.12 346.87a1.6 1.6 0 1 0 3.2 0a1.6 1.6 0 1 0 -3.2 0M341.73 346.87a1.6 1.6 0 1 0 3.2 0a1.6 1.6 0 1 0 -3.2 0M342.34 346.87a1.6 1.6 0 1 0 3.2 0a1.6 1.6 0 1 0 -3.2 0M342.96 346.87a1.6 1.6 0 1 0 3.2 0a1.6 1.6 0 1 0 -3.2 0M343.57 346.87a1.6 1.6 0 1 0 3.2 0a1.6 1.6 0 1 0 -3.2 0M344.18 346.87a1.6 1.6 0 1 0 3.2 0a1.6 1.6 0 1 0 -3.2 0M344.80 346.87a1.6 1.6 0 1 0 3.2 0a1.6 1.6 0 1 0 -3.2 0M345.41 346.87a1.6 1.6 0 1 0 3.2 0a1.6 1.6 0 1 0 -3.2 0M346.03 346.87a1.6 1.6 0 1 0 3.2 0a1.6 1.6 0 1 0 -3.2 0M346.64 346.87a1.6 1.6 0 1 0 3.2 0a1.6 1.6 0 1 0 -3.2 0M347.25 346.87a1.6 1.6 0 1 0 3.2 0a1.6 1.6 0 1 0 -3.2 0M347.87 346.87a1.6 1.6 0 1 0 3.2 0a1.6 1.6 0 1 0 -3.2 0M348.48 346.87a1.6 1.6 0 1 0 3.2 0a1.6 1.6 0 1 0 -3.2 0M349.09 346.87a1.6 1.6 0 1 0 3.2 0a1.6 1.6 0 1 0 -3.2 0M349.71 346.87a1.6 1.6 0 1 0 3.2 0a1.6 1.6 0 1 0 -3.2 0M350.32 346.87a1.6 1.6 0 1 0 3.2 0a1.6 1.6 0 1 0 -3.2 0M350.93 346.87a1.6 1.6 0 1 0 3.2 0a1.6 1.6 0 1 0 -3.2 0M351.55 346.87a1.6 1.6 0 1 0 3.2 0a1.6 1.6 0 1 0 -3.2 0M352.16 346.87a1.6 1.6 0 1 0 3.2 0a1.6 1.6 0 1 0 -3.2 0M352.78 346.87a1.6 1.6 0 1 0 3.2 0a1.6 1.6 0 1 0 -3.2 0M353.39 346.87a1.6 1.6 0 1 0 3.2 0a1.6 1.6 0 1 0 -3.2 0M354.00 346.87a1.6 1.6 0 1 0 3.2 0a1.6 1.6 0 1 0 -3.2 0M354.62 346.87a1.6 1.6 0 1 0 3.2 0a1.6 1.6 0 1 0 -3.2 0M355.23 346.87a1.6 1.6 0 1 0 3.2 0a1.6 1.6 0 1 0 -3.2 0M355.84 346.87a1.6 1.6 0 1 0 3.2 0a1.6 1.6 0 1 0 -3.2 0M356.46 346.87a1.6 1.6 0 1 0 3.2 0a1.6 1.6 0 1 0 -3.2 0M357.07 346.87a1.6 1.6 0 1 0 3.2 0a1.6 1.6 0 1 0 -3.2 0M357.69 346.87a1.6 1.6 0 1 0 3.2 0a1.6 1.6 0 1 0 -3.2 0M358.30 346.87a1.6 1.6 0 1 0 3.2 0a1.6 1.6 0 1 0 -3.2 0M358.91 346.87a1.6 1.6 0 1 0 3.2 0a1.6 1.6 0 1 0 -3.2 0M359.53 346.87a1.6 1.6 0 1 0 3.2 0a1.6 1.6 0 1 0 -3.2 0M360.14 346.87a1.6 1.6 0 1 0 3.2 0a1.6 1.6 0 1 0 -3.2 0M360.75 346.87a1.6 1.6 0 1 0 3.2 0a1.6 1.6 0 1 0 -3.2 0M361.37 346.87a1.6 1.6 0 1 0 3.2 0a1.6 1.6 0 1 0 -3.2 0M361.98 346.87a1.6 1.6 0 1 0 3.2 0a1.6 1.6 0 1 0 -3.2 0M362.60 346.87a1.6 1.6 0 1 0 3.2 0a1.6 1.6 0 1 0 -3.2 0M363.21 346.87a1.6 1.6 0 1 0 3.2 0a1.6 1.6 0 1 0 -3.2 0M363.82 346.87a1.6 1.6 0 1 0 3.2 0a1.6 1.6 0 1 0 -3.2 0M364.44 346.87a1.6 1.6 0 1 0 3.2 0a1.6 1.6 0 1 0 -3.2 0M365.05 346.87a1.6 1.6 0 1 0 3.2 0a1.6 1.6 0 1 0 -3.2 0M365.66 346.87a1.6 1.6 0 1 0 3.2 0a1.6 1.6 0 1 0 -3.2 0M366.28 346.87a1.6 1.6 0 1 0 3.2 0a1.6 1.6 0 1 0 -3.2 0M366.89 346.87a1.6 1.6 0 1 0 3.2 0a1.6 1.6 0 1 0 -3.2 0M367.51 346.87a1.6 1.6 0 1 0 3.2 0a1.6 1.6 0 1 0 -3.2 0M368.12 346.87a1.6 1.6 0 1 0 3.2 0a1.6 1.6 0 1 0 -3.2 0M368.73 346.87a1.6 1.6 0 1 0 3.2 0a1.6 1.6 0 1 0 -3.2 0M369.35 346.87a1.6 1.6 0 1 0 3.2 0a1.6 1.6 0 1 0 -3.2 0M369.96 346.87a1.6 1.6 0 1 0 3.2 0a1.6 1.6 0 1 0 -3.2 0M370.57 346.87a1.6 1.6 0 1 0 3.2 0a1.6 1.6 0 1 0 -3.2 0M371.19 346.87a1.6 1.6 0 1 0 3.2 0a1.6 1.6 0 1 0 -3.2 0M371.80 346.87a1.6 1.6 0 1 0 3.2 0a1.6 1.6 0 1 0 -3.2 0M372.41 346.87a1.6 1.6 0 1 0 3.2 0a1.6 1.6 0 1 0 -3.2 0M373.03 346.87a1.6 1.6 0 1 0 3.2 0a1.6 1.6 0 1 0 -3.2 0M373.64 346.87a1.6 1.6 0 1 0 3.2 0a1.6 1.6 0 1 0 -3.2 0M374.26 346.87a1.6 1.6 0 1 0 3.2 0a1.6 1.6 0 1 0 -3.2 0M374.87 346.87a1.6 1.6 0 1 0 3.2 0a1.6 1.6 0 1 0 -3.2 0M375.48 346.87a1.6 1.6 0 1 0 3.2 0a1.6 1.6 0 1 0 -3.2 0M376.10 346.87a1.6 1.6 0 1 0 3.2 0a1.6 1.6 0 1 0 -3.2 0M376.71 346.87a1.6 1.6 0 1 0 3.2 0a1.6 1.6 0 1 0 -3.2 0M377.32 346.87a1.6 1.6 0 1 0 3.2 0a1.6 1.6 0 1 0 -3.2 0M377.94 346.87a1.6 1.6 0 1 0 3.2 0a1.6 1.6 0 1 0 -3.2 0M378.55 346.87a1.6 1.6 0 1 0 3.2 0a1.6 1.6 0 1 0 -3.2 0M379.17 346.87a1.6 1.6 0 1 0 3.2 0a1.6 1.6 0 1 0 -3.2 0M379.78 346.87a1.6 1.6 0 1 0 3.2 0a1.6 1.6 0 1 0 -3.2 0M380.39 346.87a1.6 1.6 0 1 0 3.2 0a1.6 1.6 0 1 0 -3.2 0M381.01 346.87a1.6 1.6 0 1 0 3.2 0a1.6 1.6 0 1 0 -3.2 0M381.62 346.87a1.6 1.6 0 1 0 3.2 0a1.6 1.6 0 1 0 -3.2 0M382.23 346.87a1.6 1.6 0 1 0 3.2 0a1.6 1.6 0 1 0 -3.2 0M382.85 346.87a1.6 1.6 0 1 0 3.2 0a1.6 1.6 0 1 0 -3.2 0M383.46 346.87a1.6 1.6 0 1 0 3.2 0a1.6 1.6 0 1 0 -3.2 0M384.08 346.87a1.6 1.6 0 1 0 3.2 0a1.6 1.6 0 1 0 -3.2 0M384.69 346.87a1.6 1.6 0 1 0 3.2 0a1.6 1.6 0 1 0 -3.2 0M385.30 346.87a1.6 1.6 0 1 0 3.2 0a1.6 1.6 0 1 0 -3.2 0M385.92 346.87a1.6 1.6 0 1 0 3.2 0a1.6 1.6 0 1 0 -3.2 0M386.53 346.87a1.6 1.6 0 1 0 3.2 0a1.6 1.6 0 1 0 -3.2 0M387.14 346.87a1.6 1.6 0 1 0 3.2 0a1.6 1.6 0 1 0 -3.2 0M387.76 346.87a1.6 1.6 0 1 0 3.2 0a1.6 1.6 0 1 0 -3.2 0M388.37 346.87a1.6 1.6 0 1 0 3.2 0a1.6 1.6 0 1 0 -3.2 0M388.99 346.87a1.6 1.6 0 1 0 3.2 0a1.6 1.6 0 1 0 -3.2 0M389.60 346.87a1.6 1.6 0 1 0 3.2 0a1.6 1.6 0 1 0 -3.2 0M390.21 346.87a1.6 1.6 0 1 0 3.2 0a1.6 1.6 0 1 0 -3.2 0M390.83 346.87a1.6 1.6 0 1 0 3.2 0a1.6 1.6 0 1 0 -3.2 0M391.44 346.87a1.6 1.6 0 1 0 3.2 0a1.6 1.6 0 1 0 -3.2 0M392.05 346.87a1.6 1.6 0 1 0 3.2 0a1.6 1.6 0 1 0 -3.2 0M392.67 346.87a1.6 1.6 0 1 0 3.2 0a1.6 1.6 0 1 0 -3.2 0M393.28 346.87a1.6 1.6 0 1 0 3.2 0a1.6 1.6 0 1 0 -3.2 0M393.89 346.87a1.6 1.6 0 1 0 3.2 0a1.6 1.6 0 1 0 -3.2 0M394.51 346.87a1.6 1.6 0 1 0 3.2 0a1.6 1.6 0 1 0 -3.2 0M395.12 346.87a1.6 1.6 0 1 0 3.2 0a1.6 1.6 0 1 0 -3.2 0M395.74 346.87a1.6 1.6 0 1 0 3.2 0a1.6 1.6 0 1 0 -3.2 0M396.35 346.87a1.6 1.6 0 1 0 3.2 0a1.6 1.6 0 1 0 -3.2 0M396.96 346.87a1.6 1.6 0 1 0 3.2 0a1.6 1.6 0 1 0 -3.2 0M397.58 346.87a1.6 1.6 0 1 0 3.2 0a1.6 1.6 0 1 0 -3.2 0M398.19 346.87a1.6 1.6 0 1 0 3.2 0a1.6 1.6 0 1 0 -3.2 0M398.80 346.87a1.6 1.6 0 1 0 3.2 0a1.6 1.6 0 1 0 -3.2 0M399.42 346.87a1.6 1.6 0 1 0 3.2 0a1.6 1.6 0 1 0 -3.2 0M400.03 346.87a1.6 1.6 0 1 0 3.2 0a1.6 1.6 0 1 0 -3.2 0M400.65 346.87a1.6 1.6 0 1 0 3.2 0a1.6 1.6 0 1 0 -3.2 0M401.26 346.87a1.6 1.6 0 1 0 3.2 0a1.6 1.6 0 1 0 -3.2 0M401.87 346.87a1.6 1.6 0 1 0 3.2 0a1.6 1.6 0 1 0 -3.2 0M402.49 346.87a1.6 1.6 0 1 0 3.2 0a1.6 1.6 0 1 0 -3.2 0M403.10 346.87a1.6 1.6 0 1 0 3.2 0a1.6 1.6 0 1 0 -3.2 0M403.71 346.87a1.6 1.6 0 1 0 3.2 0a1.6 1.6 0 1 0 -3.2 0M404.33 346.87a1.6 1.6 0 1 0 3.2 0a1.6 1.6 0 1 0 -3.2 0M404.94 346.87a1.6 1.6 0 1 0 3.2 0a1.6 1.6 0 1 0 -3.2 0M405.56 346.87a1.6 1.6 0 1 0 3.2 0a1.6 1.6 0 1 0 -3.2 0M406.17 346.87a1.6 1.6 0 1 0 3.2 0a1.6 1.6 0 1 0 -3.2 0M406.78 346.87a1.6 1.6 0 1 0 3.2 0a1.6 1.6 0 1 0 -3.2 0M407.40 346.87a1.6 1.6 0 1 0 3.2 0a1.6 1.6 0 1 0 -3.2 0M408.01 346.87a1.6 1.6 0 1 0 3.2 0a1.6 1.6 0 1 0 -3.2 0M408.62 346.87a1.6 1.6 0 1 0 3.2 0a1.6 1.6 0 1 0 -3.2 0M409.24 346.87a1.6 1.6 0 1 0 3.2 0a1.6 1.6 0 1 0 -3.2 0M409.85 346.87a1.6 1.6 0 1 0 3.2 0a1.6 1.6 0 1 0 -3.2 0M410.47 346.87a1.6 1.6 0 1 0 3.2 0a1.6 1.6 0 1 0 -3.2 0M411.08 346.87a1.6 1.6 0 1 0 3.2 0a1.6 1.6 0 1 0 -3.2 0M411.69 346.87a1.6 1.6 0 1 0 3.2 0a1.6 1.6 0 1 0 -3.2 0M412.31 346.87a1.6 1.6 0 1 0 3.2 0a1.6 1.6 0 1 0 -3.2 0M412.92 346.87a1.6 1.6 0 1 0 3.2 0a1.6 1.6 0 1 0 -3.2 0M413.53 346.87a1.6 1.6 0 1 0 3.2 0a1.6 1.6 0 1 0 -3.2 0M414.15 346.87a1.6 1.6 0 1 0 3.2 0a1.6 1.6 0 1 0 -3.2 0M414.76 346.87a1.6 1.6 0 1 0 3.2 0a1.6 1.6 0 1 0 -3.2 0M415.37 346.87a1.6 1.6 0 1 0 3.2 0a1.6 1.6 0 1 0 -3.2 0M415.99 346.87a1.6 1.6 0 1 0 3.2 0a1.6 1.6 0 1 0 -3.2 0M416.60 346.87a1.6 1.6 0 1 0 3.2 0a1.6 1.6 0 1 0 -3.2 0M417.22 346.87a1.6 1.6 0 1 0 3.2 0a1.6 1.6 0 1 0 -3.2 0M417.83 346.87a1.6 1.6 0 1 0 3.2 0a1.6 1.6 0 1 0 -3.2 0M418.44 346.87a1.6 1.6 0 1 0 3.2 0a1.6 1.6 0 1 0 -3.2 0M419.06 346.87a1.6 1.6 0 1 0 3.2 0a1.6 1.6 0 1 0 -3.2 0M419.67 346.87a1.6 1.6 0 1 0 3.2 0a1.6 1.6 0 1 0 -3.2 0M420.90 346.87a1.6 1.6 0 1 0 3.2 0a1.6 1.6 0 1 0 -3.2 0M421.51 346.87a1.6 1.6 0 1 0 3.2 0a1.6 1.6 0 1 0 -3.2 0M422.13 346.87a1.6 1.6 0 1 0 3.2 0a1.6 1.6 0 1 0 -3.2 0M422.74 346.87a1.6 1.6 0 1 0 3.2 0a1.6 1.6 0 1 0 -3.2 0M423.35 346.87a1.6 1.6 0 1 0 3.2 0a1.6 1.6 0 1 0 -3.2 0M423.97 346.87a1.6 1.6 0 1 0 3.2 0a1.6 1.6 0 1 0 -3.2 0M424.58 346.87a1.6 1.6 0 1 0 3.2 0a1.6 1.6 0 1 0 -3.2 0M425.19 346.87a1.6 1.6 0 1 0 3.2 0a1.6 1.6 0 1 0 -3.2 0M425.81 346.87a1.6 1.6 0 1 0 3.2 0a1.6 1.6 0 1 0 -3.2 0M426.42 346.87a1.6 1.6 0 1 0 3.2 0a1.6 1.6 0 1 0 -3.2 0M427.04 346.87a1.6 1.6 0 1 0 3.2 0a1.6 1.6 0 1 0 -3.2 0M427.65 346.87a1.6 1.6 0 1 0 3.2 0a1.6 1.6 0 1 0 -3.2 0M428.26 346.87a1.6 1.6 0 1 0 3.2 0a1.6 1.6 0 1 0 -3.2 0M428.88 346.87a1.6 1.6 0 1 0 3.2 0a1.6 1.6 0 1 0 -3.2 0M429.49 346.87a1.6 1.6 0 1 0 3.2 0a1.6 1.6 0 1 0 -3.2 0M430.10 346.87a1.6 1.6 0 1 0 3.2 0a1.6 1.6 0 1 0 -3.2 0M430.72 346.87a1.6 1.6 0 1 0 3.2 0a1.6 1.6 0 1 0 -3.2 0M431.33 346.87a1.6 1.6 0 1 0 3.2 0a1.6 1.6 0 1 0 -3.2 0M431.95 346.87a1.6 1.6 0 1 0 3.2 0a1.6 1.6 0 1 0 -3.2 0M432.56 346.87a1.6 1.6 0 1 0 3.2 0a1.6 1.6 0 1 0 -3.2 0M433.17 346.87a1.6 1.6 0 1 0 3.2 0a1.6 1.6 0 1 0 -3.2 0M433.79 346.87a1.6 1.6 0 1 0 3.2 0a1.6 1.6 0 1 0 -3.2 0M434.40 346.87a1.6 1.6 0 1 0 3.2 0a1.6 1.6 0 1 0 -3.2 0M435.01 346.87a1.6 1.6 0 1 0 3.2 0a1.6 1.6 0 1 0 -3.2 0M435.63 346.87a1.6 1.6 0 1 0 3.2 0a1.6 1.6 0 1 0 -3.2 0M436.24 346.87a1.6 1.6 0 1 0 3.2 0a1.6 1.6 0 1 0 -3.2 0M436.85 346.87a1.6 1.6 0 1 0 3.2 0a1.6 1.6 0 1 0 -3.2 0M437.47 346.87a1.6 1.6 0 1 0 3.2 0a1.6 1.6 0 1 0 -3.2 0M438.08 346.87a1.6 1.6 0 1 0 3.2 0a1.6 1.6 0 1 0 -3.2 0M438.70 346.87a1.6 1.6 0 1 0 3.2 0a1.6 1.6 0 1 0 -3.2 0M439.31 346.87a1.6 1.6 0 1 0 3.2 0a1.6 1.6 0 1 0 -3.2 0M439.92 346.87a1.6 1.6 0 1 0 3.2 0a1.6 1.6 0 1 0 -3.2 0M440.54 346.87a1.6 1.6 0 1 0 3.2 0a1.6 1.6 0 1 0 -3.2 0M441.15 346.87a1.6 1.6 0 1 0 3.2 0a1.6 1.6 0 1 0 -3.2 0M441.76 346.87a1.6 1.6 0 1 0 3.2 0a1.6 1.6 0 1 0 -3.2 0M442.38 346.87a1.6 1.6 0 1 0 3.2 0a1.6 1.6 0 1 0 -3.2 0M442.99 346.87a1.6 1.6 0 1 0 3.2 0a1.6 1.6 0 1 0 -3.2 0M443.61 346.87a1.6 1.6 0 1 0 3.2 0a1.6 1.6 0 1 0 -3.2 0M444.22 346.87a1.6 1.6 0 1 0 3.2 0a1.6 1.6 0 1 0 -3.2 0M444.83 346.87a1.6 1.6 0 1 0 3.2 0a1.6 1.6 0 1 0 -3.2 0M445.45 346.87a1.6 1.6 0 1 0 3.2 0a1.6 1.6 0 1 0 -3.2 0M446.06 346.87a1.6 1.6 0 1 0 3.2 0a1.6 1.6 0 1 0 -3.2 0M446.67 346.87a1.6 1.6 0 1 0 3.2 0a1.6 1.6 0 1 0 -3.2 0M447.29 346.87a1.6 1.6 0 1 0 3.2 0a1.6 1.6 0 1 0 -3.2 0M447.90 346.87a1.6 1.6 0 1 0 3.2 0a1.6 1.6 0 1 0 -3.2 0M449.13 346.87a1.6 1.6 0 1 0 3.2 0a1.6 1.6 0 1 0 -3.2 0M449.74 346.87a1.6 1.6 0 1 0 3.2 0a1.6 1.6 0 1 0 -3.2 0M450.36 346.87a1.6 1.6 0 1 0 3.2 0a1.6 1.6 0 1 0 -3.2 0M450.97 346.87a1.6 1.6 0 1 0 3.2 0a1.6 1.6 0 1 0 -3.2 0M451.58 346.87a1.6 1.6 0 1 0 3.2 0a1.6 1.6 0 1 0 -3.2 0M452.20 346.87a1.6 1.6 0 1 0 3.2 0a1.6 1.6 0 1 0 -3.2 0M452.81 346.87a1.6 1.6 0 1 0 3.2 0a1.6 1.6 0 1 0 -3.2 0M453.43 346.87a1.6 1.6 0 1 0 3.2 0a1.6 1.6 0 1 0 -3.2 0M454.04 346.87a1.6 1.6 0 1 0 3.2 0a1.6 1.6 0 1 0 -3.2 0M454.65 346.87a1.6 1.6 0 1 0 3.2 0a1.6 1.6 0 1 0 -3.2 0M455.27 346.87a1.6 1.6 0 1 0 3.2 0a1.6 1.6 0 1 0 -3.2 0M455.88 346.87a1.6 1.6 0 1 0 3.2 0a1.6 1.6 0 1 0 -3.2 0M456.49 346.87a1.6 1.6 0 1 0 3.2 0a1.6 1.6 0 1 0 -3.2 0M457.11 346.87a1.6 1.6 0 1 0 3.2 0a1.6 1.6 0 1 0 -3.2 0M457.72 346.87a1.6 1.6 0 1 0 3.2 0a1.6 1.6 0 1 0 -3.2 0M458.33 346.87a1.6 1.6 0 1 0 3.2 0a1.6 1.6 0 1 0 -3.2 0M458.95 346.87a1.6 1.6 0 1 0 3.2 0a1.6 1.6 0 1 0 -3.2 0M459.56 346.87a1.6 1.6 0 1 0 3.2 0a1.6 1.6 0 1 0 -3.2 0M460.18 346.87a1.6 1.6 0 1 0 3.2 0a1.6 1.6 0 1 0 -3.2 0M460.79 346.87a1.6 1.6 0 1 0 3.2 0a1.6 1.6 0 1 0 -3.2 0M461.40 346.87a1.6 1.6 0 1 0 3.2 0a1.6 1.6 0 1 0 -3.2 0M462.02 346.87a1.6 1.6 0 1 0 3.2 0a1.6 1.6 0 1 0 -3.2 0M462.63 346.87a1.6 1.6 0 1 0 3.2 0a1.6 1.6 0 1 0 -3.2 0M463.24 346.87a1.6 1.6 0 1 0 3.2 0a1.6 1.6 0 1 0 -3.2 0M463.86 346.87a1.6 1.6 0 1 0 3.2 0a1.6 1.6 0 1 0 -3.2 0M464.47 346.87a1.6 1.6 0 1 0 3.2 0a1.6 1.6 0 1 0 -3.2 0M465.09 346.87a1.6 1.6 0 1 0 3.2 0a1.6 1.6 0 1 0 -3.2 0M465.70 346.87a1.6 1.6 0 1 0 3.2 0a1.6 1.6 0 1 0 -3.2 0M466.31 346.87a1.6 1.6 0 1 0 3.2 0a1.6 1.6 0 1 0 -3.2 0M466.93 346.87a1.6 1.6 0 1 0 3.2 0a1.6 1.6 0 1 0 -3.2 0M467.54 346.87a1.6 1.6 0 1 0 3.2 0a1.6 1.6 0 1 0 -3.2 0M468.15 346.87a1.6 1.6 0 1 0 3.2 0a1.6 1.6 0 1 0 -3.2 0M468.77 346.87a1.6 1.6 0 1 0 3.2 0a1.6 1.6 0 1 0 -3.2 0M469.38 346.87a1.6 1.6 0 1 0 3.2 0a1.6 1.6 0 1 0 -3.2 0M470.00 346.87a1.6 1.6 0 1 0 3.2 0a1.6 1.6 0 1 0 -3.2 0M470.61 346.87a1.6 1.6 0 1 0 3.2 0a1.6 1.6 0 1 0 -3.2 0M471.22 346.87a1.6 1.6 0 1 0 3.2 0a1.6 1.6 0 1 0 -3.2 0M471.84 346.87a1.6 1.6 0 1 0 3.2 0a1.6 1.6 0 1 0 -3.2 0M472.45 346.87a1.6 1.6 0 1 0 3.2 0a1.6 1.6 0 1 0 -3.2 0M473.06 346.87a1.6 1.6 0 1 0 3.2 0a1.6 1.6 0 1 0 -3.2 0M473.68 346.87a1.6 1.6 0 1 0 3.2 0a1.6 1.6 0 1 0 -3.2 0M474.29 346.87a1.6 1.6 0 1 0 3.2 0a1.6 1.6 0 1 0 -3.2 0M474.91 346.87a1.6 1.6 0 1 0 3.2 0a1.6 1.6 0 1 0 -3.2 0M475.52 346.87a1.6 1.6 0 1 0 3.2 0a1.6 1.6 0 1 0 -3.2 0M476.13 346.87a1.6 1.6 0 1 0 3.2 0a1.6 1.6 0 1 0 -3.2 0M476.75 346.87a1.6 1.6 0 1 0 3.2 0a1.6 1.6 0 1 0 -3.2 0M477.36 346.87a1.6 1.6 0 1 0 3.2 0a1.6 1.6 0 1 0 -3.2 0M477.97 346.87a1.6 1.6 0 1 0 3.2 0a1.6 1.6 0 1 0 -3.2 0M478.59 346.87a1.6 1.6 0 1 0 3.2 0a1.6 1.6 0 1 0 -3.2 0M479.20 346.87a1.6 1.6 0 1 0 3.2 0a1.6 1.6 0 1 0 -3.2 0M479.81 346.87a1.6 1.6 0 1 0 3.2 0a1.6 1.6 0 1 0 -3.2 0M480.43 346.87a1.6 1.6 0 1 0 3.2 0a1.6 1.6 0 1 0 -3.2 0M481.04 346.87a1.6 1.6 0 1 0 3.2 0a1.6 1.6 0 1 0 -3.2 0M481.66 346.87a1.6 1.6 0 1 0 3.2 0a1.6 1.6 0 1 0 -3.2 0M482.27 346.87a1.6 1.6 0 1 0 3.2 0a1.6 1.6 0 1 0 -3.2 0M482.88 346.87a1.6 1.6 0 1 0 3.2 0a1.6 1.6 0 1 0 -3.2 0M483.50 346.87a1.6 1.6 0 1 0 3.2 0a1.6 1.6 0 1 0 -3.2 0M484.11 346.87a1.6 1.6 0 1 0 3.2 0a1.6 1.6 0 1 0 -3.2 0M484.72 346.87a1.6 1.6 0 1 0 3.2 0a1.6 1.6 0 1 0 -3.2 0M485.34 346.87a1.6 1.6 0 1 0 3.2 0a1.6 1.6 0 1 0 -3.2 0M485.95 346.87a1.6 1.6 0 1 0 3.2 0a1.6 1.6 0 1 0 -3.2 0M486.57 346.87a1.6 1.6 0 1 0 3.2 0a1.6 1.6 0 1 0 -3.2 0M487.18 346.87a1.6 1.6 0 1 0 3.2 0a1.6 1.6 0 1 0 -3.2 0M487.79 346.87a1.6 1.6 0 1 0 3.2 0a1.6 1.6 0 1 0 -3.2 0M488.41 346.87a1.6 1.6 0 1 0 3.2 0a1.6 1.6 0 1 0 -3.2 0M489.02 346.87a1.6 1.6 0 1 0 3.2 0a1.6 1.6 0 1 0 -3.2 0M489.63 346.87a1.6 1.6 0 1 0 3.2 0a1.6 1.6 0 1 0 -3.2 0M490.25 346.87a1.6 1.6 0 1 0 3.2 0a1.6 1.6 0 1 0 -3.2 0M490.86 346.87a1.6 1.6 0 1 0 3.2 0a1.6 1.6 0 1 0 -3.2 0M491.48 346.87a1.6 1.6 0 1 0 3.2 0a1.6 1.6 0 1 0 -3.2 0M492.09 346.87a1.6 1.6 0 1 0 3.2 0a1.6 1.6 0 1 0 -3.2 0M492.70 346.87a1.6 1.6 0 1 0 3.2 0a1.6 1.6 0 1 0 -3.2 0M493.32 346.87a1.6 1.6 0 1 0 3.2 0a1.6 1.6 0 1 0 -3.2 0M493.93 346.87a1.6 1.6 0 1 0 3.2 0a1.6 1.6 0 1 0 -3.2 0M494.54 346.87a1.6 1.6 0 1 0 3.2 0a1.6 1.6 0 1 0 -3.2 0M495.16 346.87a1.6 1.6 0 1 0 3.2 0a1.6 1.6 0 1 0 -3.2 0M495.77 346.87a1.6 1.6 0 1 0 3.2 0a1.6 1.6 0 1 0 -3.2 0M496.39 346.87a1.6 1.6 0 1 0 3.2 0a1.6 1.6 0 1 0 -3.2 0M497.00 346.87a1.6 1.6 0 1 0 3.2 0a1.6 1.6 0 1 0 -3.2 0M497.61 346.87a1.6 1.6 0 1 0 3.2 0a1.6 1.6 0 1 0 -3.2 0M498.23 346.87a1.6 1.6 0 1 0 3.2 0a1.6 1.6 0 1 0 -3.2 0M498.84 346.87a1.6 1.6 0 1 0 3.2 0a1.6 1.6 0 1 0 -3.2 0M499.45 346.87a1.6 1.6 0 1 0 3.2 0a1.6 1.6 0 1 0 -3.2 0M500.07 346.87a1.6 1.6 0 1 0 3.2 0a1.6 1.6 0 1 0 -3.2 0M500.68 346.87a1.6 1.6 0 1 0 3.2 0a1.6 1.6 0 1 0 -3.2 0M501.29 346.87a1.6 1.6 0 1 0 3.2 0a1.6 1.6 0 1 0 -3.2 0M501.91 346.87a1.6 1.6 0 1 0 3.2 0a1.6 1.6 0 1 0 -3.2 0M502.52 346.87a1.6 1.6 0 1 0 3.2 0a1.6 1.6 0 1 0 -3.2 0M503.14 346.87a1.6 1.6 0 1 0 3.2 0a1.6 1.6 0 1 0 -3.2 0M503.75 346.87a1.6 1.6 0 1 0 3.2 0a1.6 1.6 0 1 0 -3.2 0M504.36 346.87a1.6 1.6 0 1 0 3.2 0a1.6 1.6 0 1 0 -3.2 0M504.98 346.87a1.6 1.6 0 1 0 3.2 0a1.6 1.6 0 1 0 -3.2 0M505.59 346.87a1.6 1.6 0 1 0 3.2 0a1.6 1.6 0 1 0 -3.2 0M506.20 346.87a1.6 1.6 0 1 0 3.2 0a1.6 1.6 0 1 0 -3.2 0M506.82 346.87a1.6 1.6 0 1 0 3.2 0a1.6 1.6 0 1 0 -3.2 0M507.43 346.87a1.6 1.6 0 1 0 3.2 0a1.6 1.6 0 1 0 -3.2 0M508.05 346.87a1.6 1.6 0 1 0 3.2 0a1.6 1.6 0 1 0 -3.2 0M508.66 346.87a1.6 1.6 0 1 0 3.2 0a1.6 1.6 0 1 0 -3.2 0M509.27 346.87a1.6 1.6 0 1 0 3.2 0a1.6 1.6 0 1 0 -3.2 0M509.89 346.87a1.6 1.6 0 1 0 3.2 0a1.6 1.6 0 1 0 -3.2 0M510.50 346.87a1.6 1.6 0 1 0 3.2 0a1.6 1.6 0 1 0 -3.2 0M511.11 346.87a1.6 1.6 0 1 0 3.2 0a1.6 1.6 0 1 0 -3.2 0M511.73 346.87a1.6 1.6 0 1 0 3.2 0a1.6 1.6 0 1 0 -3.2 0M512.34 346.87a1.6 1.6 0 1 0 3.2 0a1.6 1.6 0 1 0 -3.2 0M512.96 346.87a1.6 1.6 0 1 0 3.2 0a1.6 1.6 0 1 0 -3.2 0M513.57 346.87a1.6 1.6 0 1 0 3.2 0a1.6 1.6 0 1 0 -3.2 0M514.18 346.87a1.6 1.6 0 1 0 3.2 0a1.6 1.6 0 1 0 -3.2 0M514.80 346.87a1.6 1.6 0 1 0 3.2 0a1.6 1.6 0 1 0 -3.2 0M515.41 346.87a1.6 1.6 0 1 0 3.2 0a1.6 1.6 0 1 0 -3.2 0M516.02 346.87a1.6 1.6 0 1 0 3.2 0a1.6 1.6 0 1 0 -3.2 0M516.64 346.87a1.6 1.6 0 1 0 3.2 0a1.6 1.6 0 1 0 -3.2 0M517.25 346.87a1.6 1.6 0 1 0 3.2 0a1.6 1.6 0 1 0 -3.2 0M517.87 346.87a1.6 1.6 0 1 0 3.2 0a1.6 1.6 0 1 0 -3.2 0M518.48 346.87a1.6 1.6 0 1 0 3.2 0a1.6 1.6 0 1 0 -3.2 0M519.09 346.87a1.6 1.6 0 1 0 3.2 0a1.6 1.6 0 1 0 -3.2 0M519.71 346.87a1.6 1.6 0 1 0 3.2 0a1.6 1.6 0 1 0 -3.2 0M520.32 346.87a1.6 1.6 0 1 0 3.2 0a1.6 1.6 0 1 0 -3.2 0M520.93 346.87a1.6 1.6 0 1 0 3.2 0a1.6 1.6 0 1 0 -3.2 0M521.55 346.87a1.6 1.6 0 1 0 3.2 0a1.6 1.6 0 1 0 -3.2 0M522.16 346.87a1.6 1.6 0 1 0 3.2 0a1.6 1.6 0 1 0 -3.2 0M522.77 346.87a1.6 1.6 0 1 0 3.2 0a1.6 1.6 0 1 0 -3.2 0M523.39 346.87a1.6 1.6 0 1 0 3.2 0a1.6 1.6 0 1 0 -3.2 0M524.00 346.87a1.6 1.6 0 1 0 3.2 0a1.6 1.6 0 1 0 -3.2 0M524.62 346.87a1.6 1.6 0 1 0 3.2 0a1.6 1.6 0 1 0 -3.2 0M525.23 346.87a1.6 1.6 0 1 0 3.2 0a1.6 1.6 0 1 0 -3.2 0M525.84 346.87a1.6 1.6 0 1 0 3.2 0a1.6 1.6 0 1 0 -3.2 0M526.46 346.87a1.6 1.6 0 1 0 3.2 0a1.6 1.6 0 1 0 -3.2 0M527.07 346.87a1.6 1.6 0 1 0 3.2 0a1.6 1.6 0 1 0 -3.2 0M527.68 346.87a1.6 1.6 0 1 0 3.2 0a1.6 1.6 0 1 0 -3.2 0M528.30 346.87a1.6 1.6 0 1 0 3.2 0a1.6 1.6 0 1 0 -3.2 0M528.91 346.87a1.6 1.6 0 1 0 3.2 0a1.6 1.6 0 1 0 -3.2 0M529.53 346.87a1.6 1.6 0 1 0 3.2 0a1.6 1.6 0 1 0 -3.2 0M530.14 346.87a1.6 1.6 0 1 0 3.2 0a1.6 1.6 0 1 0 -3.2 0M530.75 346.87a1.6 1.6 0 1 0 3.2 0a1.6 1.6 0 1 0 -3.2 0M531.37 346.87a1.6 1.6 0 1 0 3.2 0a1.6 1.6 0 1 0 -3.2 0M531.98 346.87a1.6 1.6 0 1 0 3.2 0a1.6 1.6 0 1 0 -3.2 0M532.59 346.87a1.6 1.6 0 1 0 3.2 0a1.6 1.6 0 1 0 -3.2 0M533.21 346.87a1.6 1.6 0 1 0 3.2 0a1.6 1.6 0 1 0 -3.2 0M533.82 346.87a1.6 1.6 0 1 0 3.2 0a1.6 1.6 0 1 0 -3.2 0M534.44 346.87a1.6 1.6 0 1 0 3.2 0a1.6 1.6 0 1 0 -3.2 0M535.05 346.87a1.6 1.6 0 1 0 3.2 0a1.6 1.6 0 1 0 -3.2 0M535.66 346.87a1.6 1.6 0 1 0 3.2 0a1.6 1.6 0 1 0 -3.2 0M536.28 346.87a1.6 1.6 0 1 0 3.2 0a1.6 1.6 0 1 0 -3.2 0M536.89 346.87a1.6 1.6 0 1 0 3.2 0a1.6 1.6 0 1 0 -3.2 0M537.50 346.87a1.6 1.6 0 1 0 3.2 0a1.6 1.6 0 1 0 -3.2 0M538.12 346.87a1.6 1.6 0 1 0 3.2 0a1.6 1.6 0 1 0 -3.2 0M538.73 346.87a1.6 1.6 0 1 0 3.2 0a1.6 1.6 0 1 0 -3.2 0M539.35 346.87a1.6 1.6 0 1 0 3.2 0a1.6 1.6 0 1 0 -3.2 0M539.96 346.87a1.6 1.6 0 1 0 3.2 0a1.6 1.6 0 1 0 -3.2 0M540.57 346.87a1.6 1.6 0 1 0 3.2 0a1.6 1.6 0 1 0 -3.2 0M541.19 346.87a1.6 1.6 0 1 0 3.2 0a1.6 1.6 0 1 0 -3.2 0" fill="none" stroke="#ff0000" stroke-width="0.9"/>
<path d="M420.28 241.56a1.6 1.6 0 1 0 3.2 0a1.6 1.6 0 1 0 -3.2 0M448.52 241.56a1.6 1.6 0 1 0 3.2 0a1.6 1.6 0 1 0 -3.2 0" fill="none" stroke="#ff5464" stroke-width="0.9"/>
<text x="274.35" y="218.19">(d)</text>
<text x="301.13" y="225.62">0.6</text>
<text x="301.02" y="267.02">0.4</text>
<text x="301.31" y="309.22">0.2</text>
<text x="312.93" y="348.75">0</text>
<text x="336.03" y="373.35">−40</text>
<text x="379.43" y="373.35">−20</text>
<text x="431.98" y="373.35">0</text>
<text x="472.21" y="373.35">20</text>
<text x="514.98" y="373.35">40</text>
<text x="408.94" y="393.70" word-spacing="0.8">Time (ps)</text>
<text transform="translate(289.60,318.74) rotate(-90)">Amplitude</text>
<path d="M421.5 224.3v7" stroke="#000" stroke-width="1.0"/>
<path d="M418.5 231L421.5 237L424.5 231Z" fill="#000"/>
<path d="M450.1 224.3v7" stroke="#000" stroke-width="1.0"/>
<path d="M447.1 231L450.1 237L453.1 231Z" fill="#000"/>
</svg></body></html>
